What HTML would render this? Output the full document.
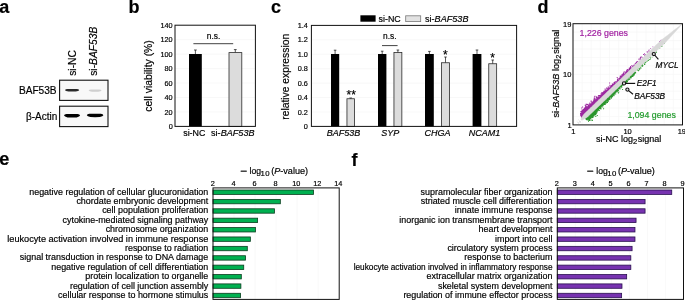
<!DOCTYPE html>
<html lang="en"><head><meta charset="utf-8"><title>Figure</title>
<style>html,body{margin:0;padding:0;background:#fff}body{width:685px;height:300px;overflow:hidden}svg{display:block}text{font-family:"Liberation Sans", Arial, Helvetica, sans-serif;fill:#000;stroke:#000;stroke-width:0.18px}</style>
</head><body>
<svg width="685" height="300" viewBox="0 0 685 300">
<defs><filter id="bl" x="-20%" y="-80%" width="140%" height="260%"><feGaussianBlur stdDeviation="0.75 0.5"/></filter></defs>
<rect width="685" height="300" fill="#fff"/>
<text x="-0.80" y="13.20" font-size="18" text-anchor="start" style="fill:#000;stroke:#000" font-weight="bold">a</text>
<text x="128.60" y="13.20" font-size="18" text-anchor="start" style="fill:#000;stroke:#000" font-weight="bold">b</text>
<text x="271.10" y="13.20" font-size="18" text-anchor="start" style="fill:#000;stroke:#000" font-weight="bold">c</text>
<text x="537.60" y="13.20" font-size="18" text-anchor="start" style="fill:#000;stroke:#000" font-weight="bold">d</text>
<text x="-0.80" y="164.70" font-size="18" text-anchor="start" style="fill:#000;stroke:#000" font-weight="bold">e</text>
<text x="351.60" y="166.10" font-size="18" text-anchor="start" style="fill:#000;stroke:#000" font-weight="bold">f</text>
<g id="panel-a">
<rect x="59.6" y="80.2" width="48.4" height="20.2" fill="#f8f8f8" stroke="#111" stroke-width="1.1"/>
<rect x="59.6" y="106.2" width="48.4" height="20.4" fill="#f8f8f8" stroke="#111" stroke-width="1.1"/>
<g filter="url(#bl)">
<path d="M65.0 90.20 Q65.3 89.10 67.5 89.10 L76.7 89.10 Q78.9 89.10 79.2 90.20 Q78.7 91.08 75.7 91.47 Q72.1 91.65 68.5 91.47 Q65.5 91.08 65.0 90.20 Z" fill="#2c2c2c"/>
<path d="M88.6 90.60 Q88.9 89.60 91.1 89.60 L99.1 89.60 Q101.3 89.60 101.6 90.60 Q101.1 91.40 98.1 91.70 Q95.1 91.80 92.1 91.70 Q89.1 91.40 88.6 90.60 Z" fill="#cfcfcf"/>
<path d="M64.0 115.60 Q64.3 114.05 66.5 114.05 L77.6 114.05 Q79.8 114.05 80.1 115.60 Q79.6 116.84 76.6 117.40 Q72.0 117.65 67.5 117.40 Q64.5 116.84 64.0 115.60 Z" fill="#000"/>
<path d="M86.8 115.20 Q87.1 113.65 89.3 113.65 L100.9 113.65 Q103.1 113.65 103.4 115.20 Q102.9 116.44 99.9 117.00 Q95.1 117.25 90.3 117.00 Q87.3 116.44 86.8 115.20 Z" fill="#000"/>
</g>
<text x="56.60" y="94.20" font-size="10.15" text-anchor="end" >BAF53B</text>
<text x="57.30" y="119.80" font-size="10" text-anchor="end" >β-Actin</text>
<text transform="translate(75.6 75.8) rotate(-90)" font-size="10.3">si-NC</text>
<text transform="translate(97.4 75.8) rotate(-90)" font-size="10.3">si-<tspan font-style="italic">BAF53B</tspan></text>
</g>
<g id="panel-b">
<line x1="175.0" x2="255.4" y1="111.94" y2="111.94" stroke="#f3f3f3" stroke-width="0.6"/>
<line x1="175.0" x2="255.4" y1="97.49" y2="97.49" stroke="#f3f3f3" stroke-width="0.6"/>
<line x1="175.0" x2="255.4" y1="83.03" y2="83.03" stroke="#f3f3f3" stroke-width="0.6"/>
<line x1="175.0" x2="255.4" y1="68.57" y2="68.57" stroke="#f3f3f3" stroke-width="0.6"/>
<line x1="175.0" x2="255.4" y1="54.11" y2="54.11" stroke="#f3f3f3" stroke-width="0.6"/>
<line x1="175.0" x2="255.4" y1="39.66" y2="39.66" stroke="#f3f3f3" stroke-width="0.6"/>
<text x="172.70" y="129.00" font-size="7.3" text-anchor="end" >0</text>
<text x="172.70" y="114.54" font-size="7.3" text-anchor="end" >20</text>
<text x="172.70" y="100.09" font-size="7.3" text-anchor="end" >40</text>
<text x="172.70" y="85.63" font-size="7.3" text-anchor="end" >60</text>
<text x="172.70" y="71.17" font-size="7.3" text-anchor="end" >80</text>
<text x="172.70" y="56.71" font-size="7.3" text-anchor="end" >100</text>
<text x="172.70" y="42.26" font-size="7.3" text-anchor="end" >120</text>
<text x="172.70" y="27.80" font-size="7.3" text-anchor="end" >140</text>
<line x1="195.4" x2="195.4" y1="50" y2="54.5" stroke="#111" stroke-width="0.7"/><line x1="194" x2="196.8" y1="50" y2="50" stroke="#111" stroke-width="0.7"/>
<rect x="189" y="54" width="12.8" height="72.40" fill="#000"/>
<line x1="235.3" x2="235.3" y1="49.6" y2="52.5" stroke="#111" stroke-width="0.7"/><line x1="233.9" x2="236.7" y1="49.6" y2="49.6" stroke="#111" stroke-width="0.7"/>
<rect x="229" y="52.6" width="12.8" height="73.80" fill="#dcdcdc" stroke="#2a2a2a" stroke-width="0.8"/>
<rect x="175.0" y="25.2" width="80.4" height="101.2" fill="none" stroke="#111" stroke-width="1"/>
<line x1="193.4" x2="233.2" y1="43.7" y2="43.7" stroke="#111" stroke-width="0.8"/>
<text x="213.50" y="39.00" font-size="8.4" text-anchor="middle" >n.s.</text>
<text x="194.30" y="135.50" font-size="8.9" text-anchor="middle" >si-NC</text>
<text x="232.80" y="135.50" font-size="9.1" text-anchor="middle" >si-<tspan font-style="italic">BAF53B</tspan></text>
<text transform="translate(151.6 76) rotate(-90)" font-size="10.4" text-anchor="middle">cell viability (%)</text>
</g>
<g id="panel-c">
<line x1="311.4" x2="516.6" y1="111.97" y2="111.97" stroke="#f3f3f3" stroke-width="0.6"/>
<line x1="311.4" x2="516.6" y1="97.54" y2="97.54" stroke="#f3f3f3" stroke-width="0.6"/>
<line x1="311.4" x2="516.6" y1="83.11" y2="83.11" stroke="#f3f3f3" stroke-width="0.6"/>
<line x1="311.4" x2="516.6" y1="68.69" y2="68.69" stroke="#f3f3f3" stroke-width="0.6"/>
<line x1="311.4" x2="516.6" y1="54.26" y2="54.26" stroke="#f3f3f3" stroke-width="0.6"/>
<line x1="311.4" x2="516.6" y1="39.83" y2="39.83" stroke="#f3f3f3" stroke-width="0.6"/>
<text x="307.90" y="129.00" font-size="7.3" text-anchor="end" >0</text>
<text x="307.90" y="114.57" font-size="7.3" text-anchor="end" >0.2</text>
<text x="307.90" y="100.14" font-size="7.3" text-anchor="end" >0.4</text>
<text x="307.90" y="85.71" font-size="7.3" text-anchor="end" >0.6</text>
<text x="307.90" y="71.29" font-size="7.3" text-anchor="end" >0.8</text>
<text x="307.90" y="56.86" font-size="7.3" text-anchor="end" >1.0</text>
<text x="307.90" y="42.43" font-size="7.3" text-anchor="end" >1.2</text>
<text x="307.90" y="28.00" font-size="7.3" text-anchor="end" >1.4</text>
<line x1="335.10" x2="335.10" y1="50.20" y2="54.50" stroke="#111" stroke-width="0.7"/><line x1="333.80" x2="336.40" y1="50.20" y2="50.20" stroke="#111" stroke-width="0.7"/>
<rect x="331.00" y="54.00" width="8.20" height="72.40" fill="#000"/>
<line x1="350.70" x2="350.70" y1="98.00" y2="98.90" stroke="#111" stroke-width="0.7"/><line x1="349.40" x2="352.00" y1="98.00" y2="98.00" stroke="#111" stroke-width="0.7"/>
<rect x="346.95" y="98.75" width="7.50" height="27.65" fill="#dcdcdc" stroke="#2a2a2a" stroke-width="0.8"/>
<line x1="382.20" x2="382.20" y1="51.20" y2="54.50" stroke="#111" stroke-width="0.7"/><line x1="380.90" x2="383.50" y1="51.20" y2="51.20" stroke="#111" stroke-width="0.7"/>
<rect x="378.00" y="54.00" width="8.40" height="72.40" fill="#000"/>
<line x1="397.90" x2="397.90" y1="50.00" y2="52.70" stroke="#111" stroke-width="0.7"/><line x1="396.60" x2="399.20" y1="50.00" y2="50.00" stroke="#111" stroke-width="0.7"/>
<rect x="393.95" y="52.55" width="7.90" height="73.85" fill="#dcdcdc" stroke="#2a2a2a" stroke-width="0.8"/>
<line x1="429.40" x2="429.40" y1="51.40" y2="54.50" stroke="#111" stroke-width="0.7"/><line x1="428.10" x2="430.70" y1="51.40" y2="51.40" stroke="#111" stroke-width="0.7"/>
<rect x="425.00" y="54.00" width="8.80" height="72.40" fill="#000"/>
<line x1="445.50" x2="445.50" y1="57.00" y2="62.90" stroke="#111" stroke-width="0.7"/><line x1="444.20" x2="446.80" y1="57.00" y2="57.00" stroke="#111" stroke-width="0.7"/>
<rect x="441.55" y="62.75" width="7.90" height="63.65" fill="#dcdcdc" stroke="#2a2a2a" stroke-width="0.8"/>
<line x1="477.00" x2="477.00" y1="50.00" y2="54.50" stroke="#111" stroke-width="0.7"/><line x1="475.70" x2="478.30" y1="50.00" y2="50.00" stroke="#111" stroke-width="0.7"/>
<rect x="472.60" y="54.00" width="8.80" height="72.40" fill="#000"/>
<line x1="492.70" x2="492.70" y1="60.00" y2="63.90" stroke="#111" stroke-width="0.7"/><line x1="491.40" x2="494.00" y1="60.00" y2="60.00" stroke="#111" stroke-width="0.7"/>
<rect x="488.75" y="63.75" width="7.90" height="62.65" fill="#dcdcdc" stroke="#2a2a2a" stroke-width="0.8"/>
<rect x="311.4" y="25.4" width="205.2" height="101.0" fill="none" stroke="#111" stroke-width="1"/>
<text x="351.20" y="98.80" font-size="12" text-anchor="middle" >**</text>
<text x="445.30" y="59.20" font-size="12" text-anchor="middle" >*</text>
<text x="492.70" y="62.20" font-size="12" text-anchor="middle" >*</text>
<line x1="382" x2="397.6" y1="45.6" y2="45.6" stroke="#111" stroke-width="0.8"/>
<text x="389.80" y="39.10" font-size="8.4" text-anchor="middle" >n.s.</text>
<text x="343.50" y="135.70" font-size="9.0" text-anchor="middle" font-style="italic">BAF53B</text>
<text x="390.30" y="135.70" font-size="9.0" text-anchor="middle" font-style="italic">SYP</text>
<text x="437.50" y="135.70" font-size="9.0" text-anchor="middle" font-style="italic">CHGA</text>
<text x="484.40" y="135.70" font-size="9.0" text-anchor="middle" font-style="italic">NCAM1</text>
<rect x="360.4" y="15.3" width="15.2" height="6.4" fill="#000"/>
<text x="378.60" y="21.60" font-size="8.9" text-anchor="start" >si-NC</text>
<rect x="405.7" y="15.8" width="15" height="5.8" fill="#e2e2e2" stroke="#777" stroke-width="0.8"/>
<text x="425.00" y="21.60" font-size="9.1" text-anchor="start" >si-<tspan font-style="italic">BAF53B</tspan></text>
<text transform="translate(288.9 76.8) rotate(-90)" font-size="10.3" text-anchor="middle">relative expression</text>
</g>
<g id="panel-d">
<line x1="582.12" x2="582.12" y1="23.7" y2="124.9" stroke="#f5f5f5" stroke-width="0.6"/>
<line x1="573.0" x2="682.5" y1="32.13" y2="32.13" stroke="#f5f5f5" stroke-width="0.6"/>
<line x1="591.25" x2="591.25" y1="23.7" y2="124.9" stroke="#f5f5f5" stroke-width="0.6"/>
<line x1="573.0" x2="682.5" y1="40.57" y2="40.57" stroke="#f5f5f5" stroke-width="0.6"/>
<line x1="600.38" x2="600.38" y1="23.7" y2="124.9" stroke="#f5f5f5" stroke-width="0.6"/>
<line x1="573.0" x2="682.5" y1="49.00" y2="49.00" stroke="#f5f5f5" stroke-width="0.6"/>
<line x1="609.50" x2="609.50" y1="23.7" y2="124.9" stroke="#f5f5f5" stroke-width="0.6"/>
<line x1="573.0" x2="682.5" y1="57.43" y2="57.43" stroke="#f5f5f5" stroke-width="0.6"/>
<line x1="618.62" x2="618.62" y1="23.7" y2="124.9" stroke="#f5f5f5" stroke-width="0.6"/>
<line x1="573.0" x2="682.5" y1="65.87" y2="65.87" stroke="#f5f5f5" stroke-width="0.6"/>
<line x1="627.75" x2="627.75" y1="23.7" y2="124.9" stroke="#f5f5f5" stroke-width="0.6"/>
<line x1="573.0" x2="682.5" y1="74.30" y2="74.30" stroke="#f5f5f5" stroke-width="0.6"/>
<line x1="636.88" x2="636.88" y1="23.7" y2="124.9" stroke="#f5f5f5" stroke-width="0.6"/>
<line x1="573.0" x2="682.5" y1="82.73" y2="82.73" stroke="#f5f5f5" stroke-width="0.6"/>
<line x1="646.00" x2="646.00" y1="23.7" y2="124.9" stroke="#f5f5f5" stroke-width="0.6"/>
<line x1="573.0" x2="682.5" y1="91.17" y2="91.17" stroke="#f5f5f5" stroke-width="0.6"/>
<line x1="655.12" x2="655.12" y1="23.7" y2="124.9" stroke="#f5f5f5" stroke-width="0.6"/>
<line x1="573.0" x2="682.5" y1="99.60" y2="99.60" stroke="#f5f5f5" stroke-width="0.6"/>
<line x1="664.25" x2="664.25" y1="23.7" y2="124.9" stroke="#f5f5f5" stroke-width="0.6"/>
<line x1="573.0" x2="682.5" y1="108.03" y2="108.03" stroke="#f5f5f5" stroke-width="0.6"/>
<line x1="673.38" x2="673.38" y1="23.7" y2="124.9" stroke="#f5f5f5" stroke-width="0.6"/>
<line x1="573.0" x2="682.5" y1="116.47" y2="116.47" stroke="#f5f5f5" stroke-width="0.6"/>
<polygon points="582.2,117.6 583.3,115.9 584.5,114.2 586.0,112.7 587.5,111.3 589.0,109.9 590.5,108.4 592.0,107.0 593.5,105.6 595.0,104.1 596.4,102.7 597.9,101.3 599.4,99.9 600.9,98.4 602.4,97.0 603.9,95.6 605.4,94.1 606.9,92.7 608.4,91.3 609.9,89.8 611.4,88.4 612.9,87.0 614.4,85.6 615.9,84.1 617.4,82.7 618.9,81.3 620.4,79.8 621.8,78.4 623.3,77.0 624.8,75.5 626.3,74.1 627.8,72.7 629.3,71.3 630.8,69.8 632.3,68.4 633.8,67.0 635.3,65.5 636.8,64.1 638.3,62.7 639.8,61.2 641.3,59.8 642.8,58.4 644.3,56.9 645.7,55.5 647.2,54.1 647.2,54.1 645.7,55.5 644.2,56.9 642.7,58.3 641.2,59.7 639.6,61.1 638.1,62.5 636.6,63.9 635.1,65.3 633.5,66.7 632.0,68.1 630.5,69.5 628.9,70.9 627.4,72.3 625.8,73.7 624.3,75.0 622.7,76.4 621.2,77.8 619.6,79.2 618.1,80.5 616.5,81.9 614.9,83.3 613.4,84.6 611.8,86.0 610.3,87.4 608.7,88.7 607.1,90.1 605.5,91.4 604.0,92.8 602.5,94.2 601.0,95.6 599.4,97.0 597.9,98.5 596.4,99.9 594.9,101.3 593.4,102.7 591.8,104.1 590.3,105.5 588.8,106.9 587.3,108.3 585.7,109.7 584.2,111.1 582.7,112.5 581.8,114.5 581.8,117.3" fill="#9c2aa0"/>
<polygon points="585.1,118.1 586.9,116.9 588.4,115.5 589.9,114.1 591.4,112.7 592.9,111.3 594.4,109.8 595.9,108.4 597.4,107.0 598.9,105.5 600.4,104.1 601.9,102.7 603.4,101.2 604.9,99.8 606.4,98.4 607.9,97.0 609.3,95.5 610.8,94.1 612.3,92.7 613.8,91.2 615.3,89.8 616.8,88.4 618.3,86.9 619.8,85.5 621.3,84.1 622.8,82.6 624.3,81.2 625.8,79.8 627.3,78.4 628.8,76.9 630.3,75.5 631.8,74.1 633.3,72.6 634.7,71.2 636.2,69.8 637.7,68.3 639.2,66.9 640.7,65.5 642.2,64.1 643.7,62.6 645.2,61.2 646.7,59.8 648.2,58.3 649.7,56.9 649.7,56.9 648.2,58.4 646.8,59.8 645.3,61.3 643.8,62.7 642.4,64.2 640.9,65.6 639.4,67.1 638.0,68.6 636.5,70.0 635.0,71.5 633.6,72.9 632.1,74.4 630.7,75.9 629.2,77.4 627.8,78.8 626.4,80.3 624.9,81.8 623.5,83.3 622.1,84.8 620.6,86.3 619.2,87.8 617.8,89.3 616.3,90.7 614.9,92.2 613.5,93.7 612.1,95.2 610.7,96.7 609.2,98.2 607.7,99.7 606.3,101.1 604.8,102.6 603.3,104.0 601.8,105.5 600.4,106.9 598.9,108.4 597.4,109.8 596.0,111.3 594.5,112.7 593.0,114.2 591.6,115.6 590.1,117.1 588.6,118.5 586.3,119.2" fill="#2a962c"/>
<path d="M586.7 108.6h1.0v1.0h-1.0zM593.2 101.9h1.0v1.0h-1.0zM581.9 115.4h1.0v1.0h-1.0zM582.3 115.3h1.0v1.0h-1.0zM590.3 106.5h1.0v1.0h-1.0zM597.9 98.9h1.0v1.0h-1.0zM593.8 99.3h1.0v1.0h-1.0zM614.4 81.4h1.0v1.0h-1.0zM582.7 112.9h1.0v1.0h-1.0zM583.6 112.1h1.0v1.0h-1.0zM598.1 97.9h1.0v1.0h-1.0zM581.4 114.8h1.0v1.0h-1.0zM600.4 96.0h1.0v1.0h-1.0zM591.1 105.5h1.0v1.0h-1.0zM608.9 88.9h1.0v1.0h-1.0zM593.3 102.7h1.0v1.0h-1.0zM603.5 93.2h1.0v1.0h-1.0zM587.3 104.1h1.0v1.0h-1.0zM583.3 113.1h1.0v1.0h-1.0zM606.6 91.4h1.0v1.0h-1.0zM617.6 80.0h1.0v1.0h-1.0zM594.8 100.0h1.0v1.0h-1.0zM612.7 84.0h1.0v1.0h-1.0zM581.9 115.2h1.0v1.0h-1.0zM597.5 96.6h1.0v1.0h-1.0zM589.3 107.8h1.0v1.0h-1.0zM581.3 116.1h1.0v1.0h-1.0zM582.0 115.4h1.0v1.0h-1.0zM583.3 113.9h1.0v1.0h-1.0zM581.5 114.2h1.0v1.0h-1.0zM593.5 101.2h1.0v1.0h-1.0zM585.1 109.3h1.0v1.0h-1.0zM586.5 106.6h1.0v1.0h-1.0zM582.1 111.0h1.0v1.0h-1.0zM583.8 110.2h1.0v1.0h-1.0zM581.4 116.7h1.0v1.0h-1.0zM586.3 105.9h1.0v1.0h-1.0zM592.6 102.8h1.0v1.0h-1.0zM598.9 95.0h1.0v1.0h-1.0zM617.4 80.1h1.0v1.0h-1.0zM589.2 107.3h1.0v1.0h-1.0zM582.0 115.2h1.0v1.0h-1.0zM584.3 111.7h1.0v1.0h-1.0zM581.3 116.8h1.0v1.0h-1.0zM582.7 114.4h1.0v1.0h-1.0zM597.6 99.7h1.0v1.0h-1.0zM585.2 110.6h1.0v1.0h-1.0zM613.9 83.2h1.0v1.0h-1.0zM591.5 105.0h1.0v1.0h-1.0zM588.2 109.0h1.0v1.0h-1.0zM612.3 85.9h1.0v1.0h-1.0zM594.0 103.2h1.0v1.0h-1.0zM593.5 101.6h1.0v1.0h-1.0zM616.2 81.9h1.0v1.0h-1.0zM585.6 110.6h1.0v1.0h-1.0zM593.9 102.7h1.0v1.0h-1.0zM587.5 109.0h1.0v1.0h-1.0zM613.6 82.0h1.0v1.0h-1.0zM611.2 86.9h1.0v1.0h-1.0zM587.7 107.9h1.0v1.0h-1.0zM581.6 116.1h1.0v1.0h-1.0zM636.3 61.9h0.8v0.8h-0.8zM660.2 40.4h0.8v0.8h-0.8zM584.3 112.2h1.0v1.0h-1.0zM596.7 98.0h1.0v1.0h-1.0zM598.6 97.0h1.0v1.0h-1.0zM581.4 113.9h1.0v1.0h-1.0zM603.8 90.8h1.0v1.0h-1.0zM584.0 112.6h1.0v1.0h-1.0zM644.1 54.7h0.8v0.8h-0.8zM633.2 65.8h0.8v0.8h-0.8zM621.4 74.5h1.0v1.0h-1.0zM610.9 85.0h1.0v1.0h-1.0zM594.8 102.4h1.0v1.0h-1.0zM581.0 116.0h1.0v1.0h-1.0zM628.6 69.0h1.0v1.0h-1.0zM611.9 86.1h1.0v1.0h-1.0zM584.7 110.7h1.0v1.0h-1.0zM585.5 110.6h1.0v1.0h-1.0zM588.2 108.5h1.0v1.0h-1.0zM595.5 100.4h1.0v1.0h-1.0zM592.5 103.7h1.0v1.0h-1.0zM592.8 102.4h1.0v1.0h-1.0zM581.4 116.7h1.0v1.0h-1.0zM582.1 111.2h1.0v1.0h-1.0zM587.5 109.2h1.0v1.0h-1.0zM595.1 102.2h1.0v1.0h-1.0zM585.3 110.8h1.0v1.0h-1.0zM606.1 89.8h1.0v1.0h-1.0zM623.6 73.7h1.0v1.0h-1.0zM591.7 102.6h1.0v1.0h-1.0zM594.2 103.0h1.0v1.0h-1.0zM630.1 66.1h1.0v1.0h-1.0zM593.3 100.3h1.0v1.0h-1.0zM613.3 84.5h1.0v1.0h-1.0zM582.0 114.9h1.0v1.0h-1.0zM581.6 114.5h1.0v1.0h-1.0zM581.8 111.6h1.0v1.0h-1.0zM598.8 96.5h1.0v1.0h-1.0zM583.2 110.1h1.0v1.0h-1.0zM586.3 104.3h1.0v1.0h-1.0zM583.6 112.9h1.0v1.0h-1.0zM593.3 103.4h1.0v1.0h-1.0zM603.1 93.8h1.0v1.0h-1.0zM595.0 102.2h1.0v1.0h-1.0zM598.2 99.4h1.0v1.0h-1.0zM580.7 114.0h1.0v1.0h-1.0zM582.7 114.3h1.0v1.0h-1.0zM581.8 115.9h1.0v1.0h-1.0zM589.6 106.0h1.0v1.0h-1.0zM611.3 86.9h1.0v1.0h-1.0zM595.3 101.2h1.0v1.0h-1.0zM581.2 113.5h1.0v1.0h-1.0zM581.9 114.8h1.0v1.0h-1.0zM598.6 98.8h1.0v1.0h-1.0zM581.9 115.0h1.0v1.0h-1.0zM590.8 105.2h1.0v1.0h-1.0zM585.0 109.7h1.0v1.0h-1.0zM594.1 103.4h1.0v1.0h-1.0zM581.7 115.4h1.0v1.0h-1.0zM586.7 109.2h1.0v1.0h-1.0zM591.4 102.7h1.0v1.0h-1.0zM587.5 108.1h1.0v1.0h-1.0zM604.3 93.5h1.0v1.0h-1.0zM581.6 110.0h1.0v1.0h-1.0zM611.0 86.6h1.0v1.0h-1.0zM592.4 104.0h1.0v1.0h-1.0zM600.7 95.5h1.0v1.0h-1.0zM587.3 108.2h1.0v1.0h-1.0zM588.4 105.9h1.0v1.0h-1.0zM581.9 115.4h1.0v1.0h-1.0zM585.7 110.9h1.0v1.0h-1.0zM581.5 114.0h1.0v1.0h-1.0zM584.6 108.7h1.0v1.0h-1.0zM586.2 109.7h1.0v1.0h-1.0zM586.0 110.8h1.0v1.0h-1.0zM644.0 53.3h0.8v0.8h-0.8zM585.3 105.6h1.0v1.0h-1.0zM591.5 104.5h1.0v1.0h-1.0zM581.4 116.7h1.0v1.0h-1.0zM582.4 114.6h1.0v1.0h-1.0zM587.0 109.8h1.0v1.0h-1.0zM594.8 99.5h1.0v1.0h-1.0zM603.0 94.4h1.0v1.0h-1.0zM588.0 106.3h1.0v1.0h-1.0zM601.4 91.9h1.0v1.0h-1.0zM581.2 115.2h1.0v1.0h-1.0zM602.7 91.9h1.0v1.0h-1.0zM582.0 112.3h1.0v1.0h-1.0zM609.8 88.1h1.0v1.0h-1.0zM595.2 100.0h1.0v1.0h-1.0zM584.2 110.7h1.0v1.0h-1.0zM583.0 113.5h1.0v1.0h-1.0zM595.0 101.8h1.0v1.0h-1.0zM594.5 95.8h1.0v1.0h-1.0zM604.5 91.7h1.0v1.0h-1.0zM594.2 102.9h1.0v1.0h-1.0zM585.5 110.9h1.0v1.0h-1.0zM586.1 110.8h1.0v1.0h-1.0zM646.8 51.9h0.8v0.8h-0.8zM591.6 104.3h1.0v1.0h-1.0zM597.6 97.1h1.0v1.0h-1.0zM583.5 113.5h1.0v1.0h-1.0zM593.6 99.8h1.0v1.0h-1.0zM585.4 110.1h1.0v1.0h-1.0zM585.2 108.8h1.0v1.0h-1.0zM591.4 105.0h1.0v1.0h-1.0zM584.6 112.3h1.0v1.0h-1.0zM628.7 67.7h1.0v1.0h-1.0zM591.3 105.9h1.0v1.0h-1.0zM584.1 111.5h1.0v1.0h-1.0zM583.2 113.4h1.0v1.0h-1.0zM634.7 63.2h0.8v0.8h-0.8zM601.2 94.2h1.0v1.0h-1.0zM621.6 77.1h1.0v1.0h-1.0zM591.4 105.9h1.0v1.0h-1.0zM582.9 113.1h1.0v1.0h-1.0zM581.3 116.7h1.0v1.0h-1.0zM612.1 83.6h1.0v1.0h-1.0zM621.7 76.0h1.0v1.0h-1.0zM588.1 106.3h1.0v1.0h-1.0zM590.7 106.6h1.0v1.0h-1.0zM580.9 114.7h1.0v1.0h-1.0zM629.5 68.8h1.0v1.0h-1.0zM593.1 103.6h1.0v1.0h-1.0zM618.7 78.6h1.0v1.0h-1.0zM596.5 97.2h1.0v1.0h-1.0zM602.3 93.3h1.0v1.0h-1.0zM602.8 92.2h1.0v1.0h-1.0zM586.1 109.9h1.0v1.0h-1.0zM627.0 70.8h1.0v1.0h-1.0zM604.0 92.5h1.0v1.0h-1.0zM585.5 110.5h1.0v1.0h-1.0zM588.9 106.9h1.0v1.0h-1.0zM583.1 112.6h1.0v1.0h-1.0zM582.6 109.6h1.0v1.0h-1.0zM590.9 105.5h1.0v1.0h-1.0zM587.6 108.5h1.0v1.0h-1.0zM585.5 111.5h1.0v1.0h-1.0zM604.3 91.4h1.0v1.0h-1.0zM589.2 106.1h1.0v1.0h-1.0zM582.1 115.4h1.0v1.0h-1.0zM641.4 56.6h0.8v0.8h-0.8zM584.0 111.1h1.0v1.0h-1.0zM584.8 110.3h1.0v1.0h-1.0zM614.0 83.3h1.0v1.0h-1.0zM580.9 115.6h1.0v1.0h-1.0zM591.8 104.9h1.0v1.0h-1.0zM581.3 116.8h1.0v1.0h-1.0zM614.2 82.0h1.0v1.0h-1.0zM585.3 110.8h1.0v1.0h-1.0zM600.9 96.2h1.0v1.0h-1.0zM602.7 93.4h1.0v1.0h-1.0zM593.6 101.1h1.0v1.0h-1.0zM607.8 89.9h1.0v1.0h-1.0zM584.5 107.6h1.0v1.0h-1.0zM584.7 110.1h1.0v1.0h-1.0zM581.3 114.3h1.0v1.0h-1.0zM595.8 100.7h1.0v1.0h-1.0zM581.3 116.5h1.0v1.0h-1.0zM590.2 104.2h1.0v1.0h-1.0zM591.9 104.8h1.0v1.0h-1.0zM583.9 109.7h1.0v1.0h-1.0zM581.4 116.2h1.0v1.0h-1.0zM600.2 96.4h1.0v1.0h-1.0zM626.8 71.4h1.0v1.0h-1.0zM586.5 107.7h1.0v1.0h-1.0zM608.7 88.3h1.0v1.0h-1.0zM592.5 103.4h1.0v1.0h-1.0zM609.3 84.8h1.0v1.0h-1.0zM585.1 111.9h1.0v1.0h-1.0zM592.1 103.6h1.0v1.0h-1.0zM583.7 110.4h1.0v1.0h-1.0zM582.6 112.7h1.0v1.0h-1.0zM584.3 111.5h1.0v1.0h-1.0zM582.1 115.4h1.0v1.0h-1.0zM619.8 75.4h1.0v1.0h-1.0zM586.6 108.2h1.0v1.0h-1.0zM628.9 68.1h1.0v1.0h-1.0zM588.8 107.9h1.0v1.0h-1.0zM583.0 112.1h1.0v1.0h-1.0zM636.4 62.7h0.8v0.8h-0.8zM583.4 110.9h1.0v1.0h-1.0zM589.2 105.0h1.0v1.0h-1.0zM590.5 103.6h1.0v1.0h-1.0zM586.9 106.7h1.0v1.0h-1.0zM580.8 115.3h1.0v1.0h-1.0zM581.2 115.3h1.0v1.0h-1.0zM581.6 114.9h1.0v1.0h-1.0zM621.1 76.4h1.0v1.0h-1.0zM636.4 61.0h0.8v0.8h-0.8zM582.1 106.6h1.0v1.0h-1.0zM625.2 73.6h1.0v1.0h-1.0zM590.3 103.3h1.0v1.0h-1.0zM635.3 62.9h0.8v0.8h-0.8zM627.6 70.8h1.0v1.0h-1.0zM604.0 92.6h1.0v1.0h-1.0zM586.0 107.7h1.0v1.0h-1.0zM588.7 108.4h1.0v1.0h-1.0zM605.4 91.9h1.0v1.0h-1.0zM581.2 114.4h1.0v1.0h-1.0zM650.3 48.2h0.8v0.8h-0.8zM585.7 110.5h1.0v1.0h-1.0zM602.7 94.8h1.0v1.0h-1.0zM584.0 110.3h1.0v1.0h-1.0zM604.8 92.0h1.0v1.0h-1.0zM598.9 96.2h1.0v1.0h-1.0zM594.3 100.6h1.0v1.0h-1.0zM604.5 93.0h1.0v1.0h-1.0zM582.8 112.5h1.0v1.0h-1.0zM595.7 101.0h1.0v1.0h-1.0zM592.4 103.2h1.0v1.0h-1.0zM608.8 86.5h1.0v1.0h-1.0zM589.4 102.6h1.0v1.0h-1.0zM613.4 84.5h1.0v1.0h-1.0zM582.9 114.0h1.0v1.0h-1.0zM645.0 53.9h0.8v0.8h-0.8zM590.1 104.8h1.0v1.0h-1.0zM607.3 90.1h1.0v1.0h-1.0zM597.9 99.5h1.0v1.0h-1.0zM588.5 107.9h1.0v1.0h-1.0zM596.6 100.0h1.0v1.0h-1.0zM583.7 111.3h1.0v1.0h-1.0zM584.3 112.6h1.0v1.0h-1.0zM584.3 111.9h1.0v1.0h-1.0zM581.5 113.4h1.0v1.0h-1.0zM594.7 102.3h1.0v1.0h-1.0zM601.7 95.5h1.0v1.0h-1.0zM585.6 109.5h1.0v1.0h-1.0zM593.2 99.6h1.0v1.0h-1.0zM587.8 104.7h1.0v1.0h-1.0zM581.5 109.6h1.0v1.0h-1.0zM582.1 109.9h1.0v1.0h-1.0zM611.4 86.7h1.0v1.0h-1.0zM616.7 77.1h1.0v1.0h-1.0zM598.9 98.5h1.0v1.0h-1.0zM581.9 114.2h1.0v1.0h-1.0zM582.7 112.8h1.0v1.0h-1.0zM593.4 103.2h1.0v1.0h-1.0zM609.8 88.0h1.0v1.0h-1.0zM582.6 110.5h1.0v1.0h-1.0zM590.6 103.2h1.0v1.0h-1.0zM626.4 70.5h1.0v1.0h-1.0zM582.1 111.6h1.0v1.0h-1.0zM583.2 110.1h1.0v1.0h-1.0zM583.0 111.5h1.0v1.0h-1.0zM588.7 106.4h1.0v1.0h-1.0zM585.7 111.2h1.0v1.0h-1.0zM620.1 75.9h1.0v1.0h-1.0zM613.1 84.7h1.0v1.0h-1.0zM595.7 99.3h1.0v1.0h-1.0zM590.0 106.4h1.0v1.0h-1.0zM590.0 106.1h1.0v1.0h-1.0zM581.2 115.9h1.0v1.0h-1.0zM592.6 104.5h1.0v1.0h-1.0zM589.8 104.0h1.0v1.0h-1.0zM591.7 104.8h1.0v1.0h-1.0zM582.3 114.5h1.0v1.0h-1.0zM592.0 102.6h1.0v1.0h-1.0zM604.1 93.2h1.0v1.0h-1.0zM592.3 102.8h1.0v1.0h-1.0zM634.6 64.4h0.8v0.8h-0.8zM604.1 93.4h1.0v1.0h-1.0zM592.2 104.0h1.0v1.0h-1.0zM623.5 72.2h1.0v1.0h-1.0zM586.7 107.2h1.0v1.0h-1.0zM583.0 112.5h1.0v1.0h-1.0zM582.9 113.0h1.0v1.0h-1.0zM625.1 72.1h1.0v1.0h-1.0zM581.4 115.6h1.0v1.0h-1.0zM582.1 111.6h1.0v1.0h-1.0zM583.3 112.4h1.0v1.0h-1.0zM581.4 112.8h1.0v1.0h-1.0zM617.5 80.6h1.0v1.0h-1.0zM595.9 101.0h1.0v1.0h-1.0zM598.2 98.9h1.0v1.0h-1.0zM609.1 88.6h1.0v1.0h-1.0zM585.2 105.3h1.0v1.0h-1.0zM590.3 105.5h1.0v1.0h-1.0zM610.2 85.7h1.0v1.0h-1.0zM597.6 97.5h1.0v1.0h-1.0zM585.0 107.6h1.0v1.0h-1.0zM582.6 112.6h1.0v1.0h-1.0zM621.0 77.2h1.0v1.0h-1.0zM599.6 98.0h1.0v1.0h-1.0zM582.9 114.5h1.0v1.0h-1.0zM583.8 110.6h1.0v1.0h-1.0zM597.6 98.8h1.0v1.0h-1.0zM582.5 113.0h1.0v1.0h-1.0zM582.4 114.4h1.0v1.0h-1.0zM617.3 80.9h1.0v1.0h-1.0zM581.1 116.3h1.0v1.0h-1.0zM594.6 101.2h1.0v1.0h-1.0zM629.1 67.6h1.0v1.0h-1.0zM621.9 75.4h1.0v1.0h-1.0zM581.9 115.3h1.0v1.0h-1.0zM580.7 115.8h1.0v1.0h-1.0zM583.8 111.6h1.0v1.0h-1.0zM592.1 102.9h1.0v1.0h-1.0zM585.6 108.3h1.0v1.0h-1.0zM581.0 114.8h1.0v1.0h-1.0zM581.1 116.4h1.0v1.0h-1.0zM603.7 91.4h1.0v1.0h-1.0zM584.9 111.4h1.0v1.0h-1.0zM584.4 110.7h1.0v1.0h-1.0zM601.8 95.7h1.0v1.0h-1.0zM602.9 94.8h1.0v1.0h-1.0zM607.4 88.5h1.0v1.0h-1.0zM584.3 109.1h1.0v1.0h-1.0zM617.1 78.4h1.0v1.0h-1.0zM585.9 110.9h1.0v1.0h-1.0zM603.8 91.3h1.0v1.0h-1.0zM618.5 79.6h1.0v1.0h-1.0zM597.9 98.5h1.0v1.0h-1.0zM599.2 96.4h1.0v1.0h-1.0zM602.0 95.6h1.0v1.0h-1.0zM590.8 106.2h1.0v1.0h-1.0zM583.4 110.7h1.0v1.0h-1.0zM582.0 114.7h1.0v1.0h-1.0zM582.6 114.2h1.0v1.0h-1.0zM588.1 108.8h1.0v1.0h-1.0zM601.7 95.8h1.0v1.0h-1.0zM602.1 95.7h1.0v1.0h-1.0zM588.4 108.1h1.0v1.0h-1.0zM611.2 86.6h1.0v1.0h-1.0zM623.1 72.5h1.0v1.0h-1.0zM584.6 112.1h1.0v1.0h-1.0zM610.5 87.4h1.0v1.0h-1.0zM611.5 85.9h1.0v1.0h-1.0zM582.1 114.1h1.0v1.0h-1.0zM584.3 111.8h1.0v1.0h-1.0zM584.9 110.1h1.0v1.0h-1.0zM602.7 94.1h1.0v1.0h-1.0zM592.6 103.6h1.0v1.0h-1.0zM596.9 98.7h1.0v1.0h-1.0zM607.1 90.6h1.0v1.0h-1.0zM601.9 94.7h1.0v1.0h-1.0zM582.5 114.7h1.0v1.0h-1.0zM583.2 112.3h1.0v1.0h-1.0zM649.1 50.9h0.8v0.8h-0.8zM592.6 104.4h1.0v1.0h-1.0zM587.6 108.3h1.0v1.0h-1.0zM585.2 110.2h1.0v1.0h-1.0zM602.0 95.4h1.0v1.0h-1.0zM582.7 114.1h1.0v1.0h-1.0zM601.8 95.5h1.0v1.0h-1.0zM597.8 98.7h1.0v1.0h-1.0zM620.2 78.1h1.0v1.0h-1.0zM581.6 116.2h1.0v1.0h-1.0zM592.3 103.5h1.0v1.0h-1.0zM619.2 79.2h1.0v1.0h-1.0zM604.9 91.2h1.0v1.0h-1.0zM598.8 97.9h1.0v1.0h-1.0zM613.3 83.9h1.0v1.0h-1.0zM604.5 92.5h1.0v1.0h-1.0zM595.2 100.5h1.0v1.0h-1.0zM591.2 105.0h1.0v1.0h-1.0zM586.6 109.5h1.0v1.0h-1.0zM613.7 84.1h1.0v1.0h-1.0zM587.2 108.9h1.0v1.0h-1.0zM583.5 112.9h1.0v1.0h-1.0zM603.6 93.3h1.0v1.0h-1.0zM638.1 58.7h0.8v0.8h-0.8zM603.8 93.0h1.0v1.0h-1.0zM584.2 112.1h1.0v1.0h-1.0zM589.1 107.4h1.0v1.0h-1.0zM589.4 107.1h1.0v1.0h-1.0zM597.1 97.7h1.0v1.0h-1.0zM582.5 112.7h1.0v1.0h-1.0zM622.7 74.6h1.0v1.0h-1.0zM604.9 92.0h1.0v1.0h-1.0zM618.5 79.6h1.0v1.0h-1.0zM601.4 94.8h1.0v1.0h-1.0zM590.2 104.6h1.0v1.0h-1.0zM597.6 98.5h1.0v1.0h-1.0zM602.5 94.3h1.0v1.0h-1.0zM584.7 110.2h1.0v1.0h-1.0zM589.6 106.7h1.0v1.0h-1.0zM627.1 69.3h1.0v1.0h-1.0zM591.3 103.3h1.0v1.0h-1.0zM581.5 115.7h1.0v1.0h-1.0zM630.5 67.0h1.0v1.0h-1.0zM594.4 100.1h1.0v1.0h-1.0zM598.6 98.4h1.0v1.0h-1.0zM591.7 101.5h1.0v1.0h-1.0zM600.1 95.3h1.0v1.0h-1.0zM604.6 89.8h1.0v1.0h-1.0zM580.5 114.1h1.0v1.0h-1.0zM588.7 106.4h1.0v1.0h-1.0zM602.1 95.6h1.0v1.0h-1.0zM585.9 110.7h1.0v1.0h-1.0zM592.4 101.8h1.0v1.0h-1.0zM609.2 88.1h1.0v1.0h-1.0zM607.2 90.2h1.0v1.0h-1.0zM597.5 97.8h1.0v1.0h-1.0zM639.8 58.9h0.8v0.8h-0.8zM610.9 86.6h1.0v1.0h-1.0zM593.8 101.6h1.0v1.0h-1.0zM611.9 84.5h1.0v1.0h-1.0zM587.4 106.5h1.0v1.0h-1.0zM590.6 106.7h1.0v1.0h-1.0zM586.5 110.5h1.0v1.0h-1.0zM585.9 108.9h1.0v1.0h-1.0zM599.9 97.6h1.0v1.0h-1.0zM626.7 69.6h1.0v1.0h-1.0zM607.9 89.7h1.0v1.0h-1.0zM609.1 82.5h1.0v1.0h-1.0zM599.7 97.8h1.0v1.0h-1.0zM582.3 114.1h1.0v1.0h-1.0zM587.7 108.3h1.0v1.0h-1.0zM621.1 74.5h1.0v1.0h-1.0zM607.4 89.7h1.0v1.0h-1.0zM620.6 77.4h1.0v1.0h-1.0zM592.3 101.4h1.0v1.0h-1.0zM590.0 105.3h1.0v1.0h-1.0zM584.4 110.7h1.0v1.0h-1.0zM591.7 103.5h1.0v1.0h-1.0zM592.4 104.2h1.0v1.0h-1.0zM594.5 102.9h1.0v1.0h-1.0zM591.9 105.3h1.0v1.0h-1.0zM599.8 97.0h1.0v1.0h-1.0zM638.7 60.7h0.8v0.8h-0.8zM597.5 97.6h1.0v1.0h-1.0zM628.2 69.7h1.0v1.0h-1.0zM591.2 101.8h1.0v1.0h-1.0zM603.2 94.3h1.0v1.0h-1.0zM587.4 108.5h1.0v1.0h-1.0zM593.3 102.7h1.0v1.0h-1.0zM583.8 111.1h1.0v1.0h-1.0zM611.8 85.8h1.0v1.0h-1.0zM611.4 85.3h1.0v1.0h-1.0zM592.6 103.4h1.0v1.0h-1.0zM599.5 97.8h1.0v1.0h-1.0zM586.0 109.2h1.0v1.0h-1.0zM598.7 98.9h1.0v1.0h-1.0zM619.4 78.8h1.0v1.0h-1.0zM582.0 115.7h1.0v1.0h-1.0zM625.3 71.6h1.0v1.0h-1.0zM607.6 88.6h1.0v1.0h-1.0zM597.6 98.6h1.0v1.0h-1.0zM596.7 100.4h1.0v1.0h-1.0zM591.0 105.1h1.0v1.0h-1.0zM582.7 114.5h1.0v1.0h-1.0zM623.6 73.1h1.0v1.0h-1.0zM611.5 86.3h1.0v1.0h-1.0zM585.7 108.7h1.0v1.0h-1.0zM586.0 108.2h1.0v1.0h-1.0zM581.6 115.2h1.0v1.0h-1.0zM581.0 115.1h1.0v1.0h-1.0zM623.7 71.3h1.0v1.0h-1.0zM594.1 98.3h1.0v1.0h-1.0zM589.0 106.0h1.0v1.0h-1.0zM599.1 98.4h1.0v1.0h-1.0zM581.3 116.6h1.0v1.0h-1.0zM582.7 113.7h1.0v1.0h-1.0zM583.2 113.9h1.0v1.0h-1.0zM603.4 94.4h1.0v1.0h-1.0zM580.8 114.6h1.0v1.0h-1.0zM602.2 93.9h1.0v1.0h-1.0zM597.2 98.0h1.0v1.0h-1.0zM591.0 104.9h1.0v1.0h-1.0zM601.5 92.8h1.0v1.0h-1.0zM599.4 98.0h1.0v1.0h-1.0zM603.8 93.5h1.0v1.0h-1.0zM615.8 82.1h1.0v1.0h-1.0zM596.0 101.5h1.0v1.0h-1.0zM599.9 95.9h1.0v1.0h-1.0zM597.8 97.2h1.0v1.0h-1.0zM588.9 105.6h1.0v1.0h-1.0zM607.2 88.9h1.0v1.0h-1.0zM583.9 107.5h1.0v1.0h-1.0zM611.3 85.3h1.0v1.0h-1.0zM595.5 98.5h1.0v1.0h-1.0zM587.0 109.6h1.0v1.0h-1.0zM619.1 77.9h1.0v1.0h-1.0zM619.8 76.0h1.0v1.0h-1.0zM581.4 116.8h1.0v1.0h-1.0zM610.2 86.4h1.0v1.0h-1.0zM581.3 115.3h1.0v1.0h-1.0zM594.2 100.1h1.0v1.0h-1.0zM614.4 83.1h1.0v1.0h-1.0zM586.7 107.4h1.0v1.0h-1.0zM595.0 102.2h1.0v1.0h-1.0zM628.4 69.8h1.0v1.0h-1.0zM600.3 96.2h1.0v1.0h-1.0zM605.5 92.2h1.0v1.0h-1.0zM590.0 104.1h1.0v1.0h-1.0zM584.3 110.6h1.0v1.0h-1.0zM620.6 76.4h1.0v1.0h-1.0zM583.5 111.7h1.0v1.0h-1.0zM583.9 112.5h1.0v1.0h-1.0zM588.9 106.4h1.0v1.0h-1.0zM588.0 107.2h1.0v1.0h-1.0zM598.5 98.9h1.0v1.0h-1.0zM587.6 108.4h1.0v1.0h-1.0zM580.2 115.0h1.0v1.0h-1.0zM591.9 104.2h1.0v1.0h-1.0zM585.9 110.8h1.0v1.0h-1.0zM605.9 90.3h1.0v1.0h-1.0zM639.8 59.3h0.8v0.8h-0.8zM582.3 114.7h1.0v1.0h-1.0zM594.5 101.5h1.0v1.0h-1.0zM623.7 74.8h1.0v1.0h-1.0zM587.7 105.6h1.0v1.0h-1.0zM593.8 100.3h1.0v1.0h-1.0zM636.3 61.9h0.8v0.8h-0.8zM639.9 57.1h0.8v0.8h-0.8zM581.8 116.0h1.0v1.0h-1.0zM621.3 74.5h1.0v1.0h-1.0zM608.1 89.4h1.0v1.0h-1.0zM581.0 114.6h1.0v1.0h-1.0zM604.6 90.9h1.0v1.0h-1.0zM596.2 100.3h1.0v1.0h-1.0zM582.5 114.1h1.0v1.0h-1.0zM591.7 104.3h1.0v1.0h-1.0zM581.2 107.5h1.0v1.0h-1.0zM583.1 111.2h1.0v1.0h-1.0zM626.3 69.8h1.0v1.0h-1.0zM580.6 111.0h1.0v1.0h-1.0zM580.9 113.0h1.0v1.0h-1.0zM590.6 105.0h1.0v1.0h-1.0zM610.6 85.4h1.0v1.0h-1.0zM585.0 111.7h1.0v1.0h-1.0zM602.6 94.3h1.0v1.0h-1.0zM586.0 110.7h1.0v1.0h-1.0zM583.4 113.0h1.0v1.0h-1.0zM581.6 110.9h1.0v1.0h-1.0zM587.1 109.2h1.0v1.0h-1.0zM581.9 115.4h1.0v1.0h-1.0zM600.2 97.0h1.0v1.0h-1.0zM584.7 109.9h1.0v1.0h-1.0zM627.0 71.6h1.0v1.0h-1.0zM620.8 76.9h1.0v1.0h-1.0zM581.3 116.3h1.0v1.0h-1.0zM588.1 109.0h1.0v1.0h-1.0zM594.1 103.4h1.0v1.0h-1.0zM590.3 105.8h1.0v1.0h-1.0zM583.0 113.3h1.0v1.0h-1.0zM606.9 90.8h1.0v1.0h-1.0zM582.0 114.3h1.0v1.0h-1.0zM592.9 104.4h1.0v1.0h-1.0zM602.1 94.5h1.0v1.0h-1.0zM596.3 101.1h1.0v1.0h-1.0zM589.7 106.9h1.0v1.0h-1.0zM581.8 115.4h1.0v1.0h-1.0zM615.9 81.3h1.0v1.0h-1.0zM581.1 116.1h1.0v1.0h-1.0zM585.5 110.2h1.0v1.0h-1.0zM612.3 85.3h1.0v1.0h-1.0zM593.7 97.7h1.0v1.0h-1.0zM590.7 105.6h1.0v1.0h-1.0zM611.1 87.1h1.0v1.0h-1.0zM587.4 109.3h1.0v1.0h-1.0zM581.4 114.8h1.0v1.0h-1.0zM635.2 62.7h0.8v0.8h-0.8zM581.6 116.4h1.0v1.0h-1.0zM585.0 111.7h1.0v1.0h-1.0zM610.8 86.7h1.0v1.0h-1.0zM582.5 114.5h1.0v1.0h-1.0zM596.5 99.9h1.0v1.0h-1.0zM593.8 103.4h1.0v1.0h-1.0zM602.9 94.2h1.0v1.0h-1.0zM581.8 112.8h1.0v1.0h-1.0zM583.1 114.1h1.0v1.0h-1.0zM581.3 111.8h1.0v1.0h-1.0zM594.8 100.6h1.0v1.0h-1.0zM582.6 111.9h1.0v1.0h-1.0zM588.1 104.7h1.0v1.0h-1.0zM592.0 101.5h1.0v1.0h-1.0zM586.4 107.6h1.0v1.0h-1.0zM585.0 106.4h1.0v1.0h-1.0zM623.0 73.0h1.0v1.0h-1.0zM580.1 113.8h1.0v1.0h-1.0zM585.5 111.0h1.0v1.0h-1.0zM597.8 98.3h1.0v1.0h-1.0zM589.8 105.5h1.0v1.0h-1.0zM580.8 115.6h1.0v1.0h-1.0zM629.2 67.8h1.0v1.0h-1.0zM619.2 79.1h1.0v1.0h-1.0zM586.0 110.7h1.0v1.0h-1.0zM583.8 108.3h1.0v1.0h-1.0zM585.1 110.6h1.0v1.0h-1.0zM590.0 105.7h1.0v1.0h-1.0zM599.1 98.1h1.0v1.0h-1.0zM595.7 99.6h1.0v1.0h-1.0zM591.6 105.1h1.0v1.0h-1.0zM583.1 113.1h1.0v1.0h-1.0zM589.6 106.9h1.0v1.0h-1.0zM584.4 110.2h1.0v1.0h-1.0zM596.9 99.5h1.0v1.0h-1.0zM599.1 97.8h1.0v1.0h-1.0zM593.3 101.1h1.0v1.0h-1.0zM591.7 105.1h1.0v1.0h-1.0zM592.8 103.2h1.0v1.0h-1.0zM595.5 100.2h1.0v1.0h-1.0zM585.5 111.5h1.0v1.0h-1.0zM592.1 104.0h1.0v1.0h-1.0zM604.6 88.4h1.0v1.0h-1.0zM581.6 114.8h1.0v1.0h-1.0zM588.6 107.0h1.0v1.0h-1.0zM604.0 92.9h1.0v1.0h-1.0zM604.3 92.8h1.0v1.0h-1.0zM587.0 108.2h1.0v1.0h-1.0zM613.7 82.8h1.0v1.0h-1.0zM593.7 103.6h1.0v1.0h-1.0zM590.4 103.5h1.0v1.0h-1.0zM602.4 94.7h1.0v1.0h-1.0zM581.3 116.7h1.0v1.0h-1.0zM593.8 98.6h1.0v1.0h-1.0zM590.4 106.9h1.0v1.0h-1.0zM617.1 80.3h1.0v1.0h-1.0zM591.0 105.1h1.0v1.0h-1.0zM585.7 109.2h1.0v1.0h-1.0zM586.7 108.7h1.0v1.0h-1.0zM613.8 82.9h1.0v1.0h-1.0zM587.2 110.0h1.0v1.0h-1.0zM595.7 101.2h1.0v1.0h-1.0zM587.5 109.3h1.0v1.0h-1.0zM612.8 84.5h1.0v1.0h-1.0zM624.0 74.8h1.0v1.0h-1.0zM593.2 99.8h1.0v1.0h-1.0zM594.5 102.9h1.0v1.0h-1.0zM592.1 102.2h1.0v1.0h-1.0zM588.4 108.5h1.0v1.0h-1.0zM586.8 107.3h1.0v1.0h-1.0zM582.3 114.2h1.0v1.0h-1.0zM588.5 106.2h1.0v1.0h-1.0zM639.9 58.4h0.8v0.8h-0.8zM597.3 98.6h1.0v1.0h-1.0zM611.0 87.2h1.0v1.0h-1.0zM585.4 107.6h1.0v1.0h-1.0zM582.7 114.1h1.0v1.0h-1.0zM600.4 95.0h1.0v1.0h-1.0zM587.4 104.0h1.0v1.0h-1.0zM585.4 109.0h1.0v1.0h-1.0zM584.2 112.7h1.0v1.0h-1.0zM595.3 98.5h1.0v1.0h-1.0zM580.2 114.3h1.0v1.0h-1.0zM606.1 87.5h1.0v1.0h-1.0zM612.6 83.4h1.0v1.0h-1.0zM600.1 97.0h1.0v1.0h-1.0zM584.9 109.7h1.0v1.0h-1.0zM592.9 101.9h1.0v1.0h-1.0zM583.1 114.1h1.0v1.0h-1.0zM605.9 91.5h1.0v1.0h-1.0zM593.6 103.3h1.0v1.0h-1.0zM593.9 96.4h1.0v1.0h-1.0zM587.3 109.2h1.0v1.0h-1.0zM588.1 108.3h1.0v1.0h-1.0zM621.6 75.1h1.0v1.0h-1.0zM591.1 105.7h1.0v1.0h-1.0zM596.1 101.0h1.0v1.0h-1.0zM590.5 105.7h1.0v1.0h-1.0zM627.2 69.1h1.0v1.0h-1.0zM620.7 75.9h1.0v1.0h-1.0zM592.1 103.7h1.0v1.0h-1.0zM584.2 110.1h1.0v1.0h-1.0zM586.1 108.8h1.0v1.0h-1.0zM592.4 104.7h1.0v1.0h-1.0zM587.8 107.8h1.0v1.0h-1.0zM644.5 55.1h0.8v0.8h-0.8zM588.0 106.5h1.0v1.0h-1.0zM581.1 114.3h1.0v1.0h-1.0zM584.1 109.9h1.0v1.0h-1.0zM586.7 110.5h1.0v1.0h-1.0zM587.9 108.8h1.0v1.0h-1.0zM602.0 94.6h1.0v1.0h-1.0zM582.7 113.5h1.0v1.0h-1.0zM613.0 85.0h1.0v1.0h-1.0zM603.2 93.8h1.0v1.0h-1.0zM637.0 61.1h0.8v0.8h-0.8zM588.8 103.4h1.0v1.0h-1.0zM602.5 95.1h1.0v1.0h-1.0zM586.4 106.1h1.0v1.0h-1.0zM597.0 99.7h1.0v1.0h-1.0zM591.5 101.9h1.0v1.0h-1.0zM586.2 110.7h1.0v1.0h-1.0zM594.7 100.9h1.0v1.0h-1.0zM588.9 107.2h1.0v1.0h-1.0zM587.3 109.2h1.0v1.0h-1.0zM582.0 113.5h1.0v1.0h-1.0zM586.6 109.8h1.0v1.0h-1.0zM587.3 109.8h1.0v1.0h-1.0zM586.0 110.0h1.0v1.0h-1.0zM622.1 73.7h1.0v1.0h-1.0zM584.0 108.4h1.0v1.0h-1.0zM600.6 96.3h1.0v1.0h-1.0zM599.2 97.0h1.0v1.0h-1.0zM585.2 110.7h1.0v1.0h-1.0zM583.3 111.9h1.0v1.0h-1.0zM624.3 74.3h1.0v1.0h-1.0zM581.9 111.4h1.0v1.0h-1.0zM586.9 109.8h1.0v1.0h-1.0zM598.7 98.6h1.0v1.0h-1.0zM612.3 83.7h1.0v1.0h-1.0zM590.2 105.7h1.0v1.0h-1.0zM586.2 106.8h1.0v1.0h-1.0zM586.7 110.4h1.0v1.0h-1.0zM615.0 83.0h1.0v1.0h-1.0zM582.8 114.2h1.0v1.0h-1.0zM583.2 110.6h1.0v1.0h-1.0zM601.1 95.1h1.0v1.0h-1.0zM605.0 92.3h1.0v1.0h-1.0zM632.6 65.5h0.8v0.8h-0.8zM601.7 95.9h1.0v1.0h-1.0zM589.4 103.9h1.0v1.0h-1.0zM601.1 94.7h1.0v1.0h-1.0zM582.6 113.4h1.0v1.0h-1.0zM581.6 115.5h1.0v1.0h-1.0zM593.0 101.0h1.0v1.0h-1.0zM598.2 98.1h1.0v1.0h-1.0zM588.4 108.4h1.0v1.0h-1.0zM584.5 112.1h1.0v1.0h-1.0zM600.1 96.7h1.0v1.0h-1.0zM584.3 110.3h1.0v1.0h-1.0zM588.3 108.7h1.0v1.0h-1.0zM618.8 78.6h1.0v1.0h-1.0zM610.1 86.4h1.0v1.0h-1.0zM605.7 91.1h1.0v1.0h-1.0zM590.3 104.3h1.0v1.0h-1.0zM612.1 85.2h1.0v1.0h-1.0zM584.2 111.6h1.0v1.0h-1.0zM586.0 110.0h1.0v1.0h-1.0zM581.3 112.8h1.0v1.0h-1.0zM591.6 105.0h1.0v1.0h-1.0zM581.3 116.4h1.0v1.0h-1.0zM604.3 91.2h1.0v1.0h-1.0zM594.7 101.2h1.0v1.0h-1.0zM592.1 104.1h1.0v1.0h-1.0zM581.4 116.6h1.0v1.0h-1.0zM597.6 97.0h1.0v1.0h-1.0zM583.8 109.4h1.0v1.0h-1.0zM581.3 111.7h1.0v1.0h-1.0zM586.6 109.9h1.0v1.0h-1.0zM597.6 97.6h1.0v1.0h-1.0zM606.5 88.3h1.0v1.0h-1.0zM604.7 92.7h1.0v1.0h-1.0zM586.9 109.0h1.0v1.0h-1.0zM593.7 101.2h1.0v1.0h-1.0zM581.0 115.1h1.0v1.0h-1.0zM597.8 98.6h1.0v1.0h-1.0zM632.0 65.8h0.8v0.8h-0.8zM583.3 112.8h1.0v1.0h-1.0zM600.4 95.1h1.0v1.0h-1.0zM590.7 105.7h1.0v1.0h-1.0zM591.0 106.2h1.0v1.0h-1.0zM601.9 92.5h1.0v1.0h-1.0zM608.4 89.7h1.0v1.0h-1.0zM585.9 109.8h1.0v1.0h-1.0zM586.9 108.0h1.0v1.0h-1.0zM599.4 96.5h1.0v1.0h-1.0zM584.7 108.1h1.0v1.0h-1.0zM595.2 101.6h1.0v1.0h-1.0zM587.1 108.9h1.0v1.0h-1.0zM643.1 54.1h0.8v0.8h-0.8zM596.9 98.6h1.0v1.0h-1.0zM581.7 115.0h1.0v1.0h-1.0zM594.6 100.5h1.0v1.0h-1.0zM591.9 104.5h1.0v1.0h-1.0zM619.0 78.6h1.0v1.0h-1.0zM583.9 112.1h1.0v1.0h-1.0zM599.1 96.8h1.0v1.0h-1.0zM595.2 100.3h1.0v1.0h-1.0zM589.0 106.9h1.0v1.0h-1.0zM583.1 111.7h1.0v1.0h-1.0zM615.6 81.6h1.0v1.0h-1.0zM581.9 114.0h1.0v1.0h-1.0zM595.0 102.2h1.0v1.0h-1.0zM595.0 100.8h1.0v1.0h-1.0zM581.7 114.4h1.0v1.0h-1.0zM580.7 113.6h1.0v1.0h-1.0zM602.5 94.1h1.0v1.0h-1.0zM581.2 112.6h1.0v1.0h-1.0zM612.4 85.7h1.0v1.0h-1.0zM582.5 111.6h1.0v1.0h-1.0zM583.0 113.4h1.0v1.0h-1.0zM582.1 115.5h1.0v1.0h-1.0zM595.9 99.8h1.0v1.0h-1.0zM586.8 109.8h1.0v1.0h-1.0zM597.1 98.6h1.0v1.0h-1.0zM593.7 100.3h1.0v1.0h-1.0zM604.3 91.9h1.0v1.0h-1.0zM605.8 90.8h1.0v1.0h-1.0zM587.1 106.4h1.0v1.0h-1.0zM632.9 64.7h0.8v0.8h-0.8zM594.7 102.3h1.0v1.0h-1.0zM581.5 112.9h1.0v1.0h-1.0zM583.7 111.8h1.0v1.0h-1.0zM613.0 84.7h1.0v1.0h-1.0zM582.7 114.1h1.0v1.0h-1.0zM583.4 111.8h1.0v1.0h-1.0zM589.0 107.7h1.0v1.0h-1.0zM616.9 79.4h1.0v1.0h-1.0zM634.1 65.3h0.8v0.8h-0.8zM581.1 111.1h1.0v1.0h-1.0zM581.8 116.0h1.0v1.0h-1.0zM610.9 86.6h1.0v1.0h-1.0zM582.7 112.2h1.0v1.0h-1.0zM588.6 106.6h1.0v1.0h-1.0zM586.7 108.3h1.0v1.0h-1.0zM620.6 77.4h1.0v1.0h-1.0zM591.8 105.2h1.0v1.0h-1.0zM589.4 107.7h1.0v1.0h-1.0zM587.9 109.2h1.0v1.0h-1.0zM591.4 105.4h1.0v1.0h-1.0zM600.6 97.1h1.0v1.0h-1.0zM585.5 109.9h1.0v1.0h-1.0zM594.2 103.3h1.0v1.0h-1.0zM580.8 115.2h1.0v1.0h-1.0zM606.8 90.2h1.0v1.0h-1.0zM598.2 98.5h1.0v1.0h-1.0zM617.2 80.4h1.0v1.0h-1.0zM600.7 96.1h1.0v1.0h-1.0zM591.7 102.4h1.0v1.0h-1.0zM587.3 107.8h1.0v1.0h-1.0zM587.7 108.8h1.0v1.0h-1.0zM660.8 39.8h0.8v0.8h-0.8zM588.3 108.7h1.0v1.0h-1.0zM581.2 116.5h1.0v1.0h-1.0zM594.9 101.0h1.0v1.0h-1.0zM583.0 112.2h1.0v1.0h-1.0zM603.6 93.7h1.0v1.0h-1.0zM629.4 67.8h1.0v1.0h-1.0zM581.9 110.7h1.0v1.0h-1.0zM659.2 41.1h0.8v0.8h-0.8zM581.1 114.2h1.0v1.0h-1.0zM621.8 76.8h1.0v1.0h-1.0zM585.4 110.0h1.0v1.0h-1.0zM584.5 111.4h1.0v1.0h-1.0zM616.2 81.7h1.0v1.0h-1.0zM584.3 112.2h1.0v1.0h-1.0zM580.0 112.8h1.0v1.0h-1.0zM617.8 80.3h1.0v1.0h-1.0zM594.0 102.6h1.0v1.0h-1.0zM598.4 98.1h1.0v1.0h-1.0zM605.2 92.2h1.0v1.0h-1.0zM589.6 106.9h1.0v1.0h-1.0zM589.4 106.2h1.0v1.0h-1.0zM597.7 98.8h1.0v1.0h-1.0zM584.8 110.0h1.0v1.0h-1.0zM581.1 116.1h1.0v1.0h-1.0zM581.7 115.2h1.0v1.0h-1.0zM603.6 93.9h1.0v1.0h-1.0zM583.0 113.2h1.0v1.0h-1.0zM582.2 114.5h1.0v1.0h-1.0zM595.6 100.1h1.0v1.0h-1.0zM599.2 97.2h1.0v1.0h-1.0zM585.4 110.5h1.0v1.0h-1.0zM606.4 91.4h1.0v1.0h-1.0zM648.2 50.8h0.8v0.8h-0.8zM590.7 100.5h1.0v1.0h-1.0zM599.6 97.8h1.0v1.0h-1.0zM587.9 107.7h1.0v1.0h-1.0zM582.6 114.8h1.0v1.0h-1.0zM582.0 112.6h1.0v1.0h-1.0zM583.8 112.3h1.0v1.0h-1.0zM588.4 108.0h1.0v1.0h-1.0zM626.0 72.3h1.0v1.0h-1.0zM607.6 90.3h1.0v1.0h-1.0zM595.9 96.2h1.0v1.0h-1.0zM608.9 87.9h1.0v1.0h-1.0zM582.7 114.2h1.0v1.0h-1.0zM581.7 114.9h1.0v1.0h-1.0zM581.5 114.9h1.0v1.0h-1.0zM587.8 105.0h1.0v1.0h-1.0zM583.8 110.6h1.0v1.0h-1.0zM585.4 110.3h1.0v1.0h-1.0zM606.0 91.6h1.0v1.0h-1.0zM586.2 109.4h1.0v1.0h-1.0zM583.7 113.3h1.0v1.0h-1.0zM617.0 81.2h1.0v1.0h-1.0zM584.7 108.7h1.0v1.0h-1.0zM592.1 104.4h1.0v1.0h-1.0zM596.6 100.3h1.0v1.0h-1.0zM595.7 100.9h1.0v1.0h-1.0zM588.2 108.1h1.0v1.0h-1.0zM615.7 81.5h1.0v1.0h-1.0zM584.9 108.2h1.0v1.0h-1.0zM582.8 114.2h1.0v1.0h-1.0zM583.6 113.4h1.0v1.0h-1.0zM582.0 114.0h1.0v1.0h-1.0zM586.6 107.7h1.0v1.0h-1.0zM601.3 92.8h1.0v1.0h-1.0zM583.2 109.5h1.0v1.0h-1.0zM600.5 95.1h1.0v1.0h-1.0zM590.5 106.3h1.0v1.0h-1.0zM581.2 116.0h1.0v1.0h-1.0zM583.1 114.1h1.0v1.0h-1.0zM582.7 113.1h1.0v1.0h-1.0zM583.2 113.2h1.0v1.0h-1.0zM592.4 103.6h1.0v1.0h-1.0zM625.1 72.6h1.0v1.0h-1.0zM641.8 57.2h0.8v0.8h-0.8zM584.9 109.7h1.0v1.0h-1.0zM581.2 115.2h1.0v1.0h-1.0zM584.7 104.7h1.0v1.0h-1.0zM598.5 96.9h1.0v1.0h-1.0zM652.5 46.4h0.8v0.8h-0.8zM589.3 107.0h1.0v1.0h-1.0zM588.4 106.8h1.0v1.0h-1.0zM586.4 103.7h1.0v1.0h-1.0zM627.0 71.1h1.0v1.0h-1.0zM589.1 108.1h1.0v1.0h-1.0zM613.4 83.9h1.0v1.0h-1.0zM623.0 74.7h1.0v1.0h-1.0zM594.5 102.1h1.0v1.0h-1.0zM643.5 54.1h0.8v0.8h-0.8zM596.8 100.8h1.0v1.0h-1.0zM584.1 110.4h1.0v1.0h-1.0zM601.9 93.8h1.0v1.0h-1.0zM592.9 102.3h1.0v1.0h-1.0zM597.5 98.3h1.0v1.0h-1.0zM584.5 111.2h1.0v1.0h-1.0zM591.6 104.7h1.0v1.0h-1.0zM593.2 102.9h1.0v1.0h-1.0zM626.8 70.4h1.0v1.0h-1.0zM593.8 103.1h1.0v1.0h-1.0zM611.1 86.1h1.0v1.0h-1.0zM598.0 97.8h1.0v1.0h-1.0zM580.6 114.7h1.0v1.0h-1.0zM612.5 85.4h1.0v1.0h-1.0zM585.3 110.7h1.0v1.0h-1.0zM588.1 108.2h1.0v1.0h-1.0zM581.5 113.8h1.0v1.0h-1.0zM600.9 94.9h1.0v1.0h-1.0zM605.9 91.5h1.0v1.0h-1.0zM600.3 95.9h1.0v1.0h-1.0zM588.0 107.3h1.0v1.0h-1.0zM588.5 107.3h1.0v1.0h-1.0zM582.1 115.5h1.0v1.0h-1.0zM603.3 94.4h1.0v1.0h-1.0zM612.2 84.7h1.0v1.0h-1.0zM598.4 98.5h1.0v1.0h-1.0zM608.4 88.8h1.0v1.0h-1.0zM587.8 107.1h1.0v1.0h-1.0zM602.8 94.6h1.0v1.0h-1.0zM588.9 106.1h1.0v1.0h-1.0zM587.7 106.3h1.0v1.0h-1.0zM625.9 70.7h1.0v1.0h-1.0zM597.9 95.2h1.0v1.0h-1.0zM582.3 115.2h1.0v1.0h-1.0zM591.9 103.5h1.0v1.0h-1.0zM604.9 90.8h1.0v1.0h-1.0zM591.6 105.4h1.0v1.0h-1.0zM587.9 104.8h1.0v1.0h-1.0zM592.4 104.3h1.0v1.0h-1.0zM611.2 85.7h1.0v1.0h-1.0zM580.9 115.0h1.0v1.0h-1.0zM595.0 102.2h1.0v1.0h-1.0zM583.1 110.0h1.0v1.0h-1.0zM610.9 86.8h1.0v1.0h-1.0zM595.3 101.7h1.0v1.0h-1.0zM600.9 96.4h1.0v1.0h-1.0zM600.7 95.1h1.0v1.0h-1.0zM594.5 99.4h1.0v1.0h-1.0zM583.5 113.5h1.0v1.0h-1.0zM590.5 100.7h1.0v1.0h-1.0zM586.0 110.9h1.0v1.0h-1.0zM585.0 110.3h1.0v1.0h-1.0zM589.3 105.8h1.0v1.0h-1.0zM585.8 108.7h1.0v1.0h-1.0zM584.4 109.6h1.0v1.0h-1.0zM581.3 115.0h1.0v1.0h-1.0zM592.5 104.5h1.0v1.0h-1.0zM588.6 108.2h1.0v1.0h-1.0zM594.6 101.7h1.0v1.0h-1.0zM586.3 108.7h1.0v1.0h-1.0zM587.5 109.3h1.0v1.0h-1.0zM608.9 88.6h1.0v1.0h-1.0zM595.2 99.4h1.0v1.0h-1.0zM629.6 69.3h1.0v1.0h-1.0zM598.3 98.1h1.0v1.0h-1.0zM615.3 81.3h1.0v1.0h-1.0zM625.6 71.5h1.0v1.0h-1.0zM592.3 103.7h1.0v1.0h-1.0zM583.3 110.7h1.0v1.0h-1.0zM582.8 112.9h1.0v1.0h-1.0zM582.4 114.4h1.0v1.0h-1.0zM634.4 64.2h0.8v0.8h-0.8zM600.7 95.7h1.0v1.0h-1.0zM582.1 115.5h1.0v1.0h-1.0zM586.6 110.0h1.0v1.0h-1.0zM595.8 100.7h1.0v1.0h-1.0zM623.7 74.0h1.0v1.0h-1.0zM582.6 112.4h1.0v1.0h-1.0zM580.2 114.6h1.0v1.0h-1.0zM598.8 98.5h1.0v1.0h-1.0zM590.5 104.2h1.0v1.0h-1.0zM590.5 106.4h1.0v1.0h-1.0zM582.6 113.6h1.0v1.0h-1.0zM630.4 67.6h1.0v1.0h-1.0zM592.9 104.3h1.0v1.0h-1.0zM580.6 112.9h1.0v1.0h-1.0zM594.4 102.7h1.0v1.0h-1.0zM583.1 113.4h1.0v1.0h-1.0zM582.7 109.4h1.0v1.0h-1.0zM580.5 114.9h1.0v1.0h-1.0zM631.6 65.8h0.8v0.8h-0.8zM587.1 108.5h1.0v1.0h-1.0zM583.9 112.6h1.0v1.0h-1.0zM585.7 108.9h1.0v1.0h-1.0zM594.5 101.9h1.0v1.0h-1.0zM596.7 100.5h1.0v1.0h-1.0zM582.7 114.6h1.0v1.0h-1.0zM582.3 112.9h1.0v1.0h-1.0zM599.8 97.2h1.0v1.0h-1.0zM583.0 112.1h1.0v1.0h-1.0zM617.5 80.5h1.0v1.0h-1.0zM581.5 111.5h1.0v1.0h-1.0zM591.7 103.3h1.0v1.0h-1.0zM582.4 113.6h1.0v1.0h-1.0zM593.2 104.0h1.0v1.0h-1.0zM584.0 111.8h1.0v1.0h-1.0zM585.1 111.1h1.0v1.0h-1.0zM593.0 104.1h1.0v1.0h-1.0zM592.6 104.6h1.0v1.0h-1.0zM595.6 101.5h1.0v1.0h-1.0zM582.9 112.6h1.0v1.0h-1.0zM581.2 115.6h1.0v1.0h-1.0zM620.2 78.1h1.0v1.0h-1.0zM583.7 110.0h1.0v1.0h-1.0zM581.4 114.7h1.0v1.0h-1.0zM596.8 100.3h1.0v1.0h-1.0zM601.8 96.0h1.0v1.0h-1.0zM587.7 108.6h1.0v1.0h-1.0zM581.1 116.3h1.0v1.0h-1.0zM589.8 106.7h1.0v1.0h-1.0zM604.2 93.3h1.0v1.0h-1.0zM583.3 113.1h1.0v1.0h-1.0zM584.6 111.5h1.0v1.0h-1.0zM647.0 51.7h0.8v0.8h-0.8zM607.8 90.3h1.0v1.0h-1.0zM605.3 92.0h1.0v1.0h-1.0zM613.8 83.8h1.0v1.0h-1.0zM582.5 114.6h1.0v1.0h-1.0zM640.3 57.5h0.8v0.8h-0.8zM582.0 112.5h1.0v1.0h-1.0zM603.3 91.0h1.0v1.0h-1.0zM609.0 87.7h1.0v1.0h-1.0zM607.7 89.4h1.0v1.0h-1.0zM585.6 108.8h1.0v1.0h-1.0zM582.7 113.9h1.0v1.0h-1.0zM608.4 89.6h1.0v1.0h-1.0zM582.3 110.3h1.0v1.0h-1.0zM582.9 109.1h1.0v1.0h-1.0zM602.8 94.9h1.0v1.0h-1.0zM607.8 89.6h1.0v1.0h-1.0zM610.8 85.1h1.0v1.0h-1.0zM581.5 113.9h1.0v1.0h-1.0zM595.3 99.2h1.0v1.0h-1.0zM607.9 88.3h1.0v1.0h-1.0zM582.9 114.3h1.0v1.0h-1.0zM589.4 106.0h1.0v1.0h-1.0zM584.2 111.3h1.0v1.0h-1.0zM613.6 83.8h1.0v1.0h-1.0zM585.7 110.2h1.0v1.0h-1.0zM590.1 105.2h1.0v1.0h-1.0zM599.8 95.1h1.0v1.0h-1.0zM611.5 86.3h1.0v1.0h-1.0zM587.9 107.7h1.0v1.0h-1.0zM619.5 77.7h1.0v1.0h-1.0zM635.9 62.1h0.8v0.8h-0.8zM584.1 112.3h1.0v1.0h-1.0zM581.3 116.8h1.0v1.0h-1.0zM632.4 66.2h0.8v0.8h-0.8zM582.3 114.1h1.0v1.0h-1.0zM615.5 81.5h1.0v1.0h-1.0zM619.7 76.6h1.0v1.0h-1.0zM595.8 97.2h1.0v1.0h-1.0zM599.2 96.9h1.0v1.0h-1.0zM587.4 106.6h1.0v1.0h-1.0zM592.8 104.2h1.0v1.0h-1.0zM646.9 51.3h0.8v0.8h-0.8zM590.6 105.4h1.0v1.0h-1.0zM620.4 78.1h1.0v1.0h-1.0zM581.3 111.9h1.0v1.0h-1.0zM619.4 77.2h1.0v1.0h-1.0zM588.4 106.6h1.0v1.0h-1.0zM598.8 98.3h1.0v1.0h-1.0zM593.0 101.1h1.0v1.0h-1.0zM648.6 50.0h0.8v0.8h-0.8zM638.9 58.8h0.8v0.8h-0.8zM585.7 109.9h1.0v1.0h-1.0zM608.0 88.2h1.0v1.0h-1.0zM580.9 111.3h1.0v1.0h-1.0zM604.5 93.0h1.0v1.0h-1.0zM586.5 108.9h1.0v1.0h-1.0zM640.5 56.5h0.8v0.8h-0.8zM586.6 109.2h1.0v1.0h-1.0zM590.8 106.1h1.0v1.0h-1.0zM585.2 110.2h1.0v1.0h-1.0zM585.5 110.2h1.0v1.0h-1.0zM622.5 74.1h1.0v1.0h-1.0zM586.8 109.1h1.0v1.0h-1.0zM604.9 90.9h1.0v1.0h-1.0zM605.5 92.1h1.0v1.0h-1.0zM587.5 107.4h1.0v1.0h-1.0zM597.9 98.6h1.0v1.0h-1.0zM605.5 89.4h1.0v1.0h-1.0zM588.0 108.2h1.0v1.0h-1.0zM586.2 110.9h1.0v1.0h-1.0zM605.5 91.9h1.0v1.0h-1.0zM590.0 106.9h1.0v1.0h-1.0zM598.8 98.1h1.0v1.0h-1.0zM598.1 98.4h1.0v1.0h-1.0zM630.0 66.7h1.0v1.0h-1.0zM589.3 107.3h1.0v1.0h-1.0zM616.8 80.4h1.0v1.0h-1.0zM592.8 102.5h1.0v1.0h-1.0zM585.9 107.1h1.0v1.0h-1.0zM588.0 105.0h1.0v1.0h-1.0zM596.1 101.4h1.0v1.0h-1.0zM595.7 101.3h1.0v1.0h-1.0zM611.8 83.5h1.0v1.0h-1.0zM600.6 97.1h1.0v1.0h-1.0zM620.4 75.7h1.0v1.0h-1.0zM599.1 97.9h1.0v1.0h-1.0zM602.2 95.0h1.0v1.0h-1.0zM585.0 109.3h1.0v1.0h-1.0zM585.7 110.1h1.0v1.0h-1.0zM583.7 110.5h1.0v1.0h-1.0zM609.0 87.8h1.0v1.0h-1.0zM600.6 94.1h1.0v1.0h-1.0zM581.2 116.6h1.0v1.0h-1.0zM583.4 113.7h1.0v1.0h-1.0zM594.8 102.0h1.0v1.0h-1.0zM581.7 115.8h1.0v1.0h-1.0zM598.1 98.8h1.0v1.0h-1.0zM587.2 108.6h1.0v1.0h-1.0zM584.5 111.9h1.0v1.0h-1.0zM610.1 87.7h1.0v1.0h-1.0zM581.7 116.2h1.0v1.0h-1.0zM589.1 105.4h1.0v1.0h-1.0zM595.9 100.6h1.0v1.0h-1.0zM592.9 103.3h1.0v1.0h-1.0zM609.6 87.9h1.0v1.0h-1.0zM587.4 109.0h1.0v1.0h-1.0zM583.3 113.8h1.0v1.0h-1.0zM601.0 96.3h1.0v1.0h-1.0zM583.2 111.4h1.0v1.0h-1.0zM586.0 109.9h1.0v1.0h-1.0zM589.3 104.7h1.0v1.0h-1.0zM602.3 95.1h1.0v1.0h-1.0zM601.6 94.8h1.0v1.0h-1.0zM603.4 90.8h1.0v1.0h-1.0zM602.8 93.8h1.0v1.0h-1.0zM582.4 110.0h1.0v1.0h-1.0zM598.4 99.0h1.0v1.0h-1.0zM587.7 107.9h1.0v1.0h-1.0zM585.8 108.6h1.0v1.0h-1.0zM582.5 111.4h1.0v1.0h-1.0zM589.7 104.1h1.0v1.0h-1.0zM581.8 113.5h1.0v1.0h-1.0zM622.8 73.3h1.0v1.0h-1.0zM611.4 86.4h1.0v1.0h-1.0zM593.0 103.7h1.0v1.0h-1.0zM583.3 108.8h1.0v1.0h-1.0zM631.3 65.0h0.8v0.8h-0.8zM603.1 92.4h1.0v1.0h-1.0zM580.4 111.1h1.0v1.0h-1.0zM596.4 101.0h1.0v1.0h-1.0zM608.3 89.7h1.0v1.0h-1.0zM581.3 115.3h1.0v1.0h-1.0zM586.8 108.7h1.0v1.0h-1.0zM618.4 78.1h1.0v1.0h-1.0zM585.5 111.3h1.0v1.0h-1.0zM588.1 106.8h1.0v1.0h-1.0zM583.7 111.5h1.0v1.0h-1.0zM595.4 100.1h1.0v1.0h-1.0zM581.2 114.4h1.0v1.0h-1.0zM581.3 114.9h1.0v1.0h-1.0zM603.0 94.6h1.0v1.0h-1.0zM599.1 97.9h1.0v1.0h-1.0zM622.6 74.1h1.0v1.0h-1.0zM584.7 110.7h1.0v1.0h-1.0zM608.5 89.6h1.0v1.0h-1.0zM598.7 99.0h1.0v1.0h-1.0zM646.7 51.2h0.8v0.8h-0.8zM581.9 115.7h1.0v1.0h-1.0zM598.4 95.0h1.0v1.0h-1.0zM598.3 98.1h1.0v1.0h-1.0zM581.4 116.3h1.0v1.0h-1.0zM581.2 113.0h1.0v1.0h-1.0zM610.0 87.8h1.0v1.0h-1.0zM592.1 102.5h1.0v1.0h-1.0zM625.2 73.7h1.0v1.0h-1.0zM594.7 101.8h1.0v1.0h-1.0zM595.8 99.7h1.0v1.0h-1.0zM581.3 114.1h1.0v1.0h-1.0zM585.6 103.7h1.0v1.0h-1.0zM581.2 115.9h1.0v1.0h-1.0zM581.3 112.4h1.0v1.0h-1.0zM584.3 111.8h1.0v1.0h-1.0zM594.6 102.5h1.0v1.0h-1.0zM582.4 114.5h1.0v1.0h-1.0zM580.7 112.7h1.0v1.0h-1.0zM587.1 110.0h1.0v1.0h-1.0zM648.7 49.5h0.8v0.8h-0.8zM582.5 113.8h1.0v1.0h-1.0zM590.2 104.5h1.0v1.0h-1.0zM596.3 98.8h1.0v1.0h-1.0zM607.7 87.4h1.0v1.0h-1.0zM613.2 85.0h1.0v1.0h-1.0zM614.5 83.5h1.0v1.0h-1.0zM617.6 79.4h1.0v1.0h-1.0zM600.6 93.3h1.0v1.0h-1.0zM586.5 109.5h1.0v1.0h-1.0zM590.4 105.4h1.0v1.0h-1.0zM598.2 96.6h1.0v1.0h-1.0zM605.1 91.7h1.0v1.0h-1.0zM585.6 111.1h1.0v1.0h-1.0zM619.6 78.8h1.0v1.0h-1.0zM587.6 109.2h1.0v1.0h-1.0zM607.6 87.7h1.0v1.0h-1.0zM582.4 114.1h1.0v1.0h-1.0zM588.0 107.6h1.0v1.0h-1.0zM640.3 57.6h0.8v0.8h-0.8zM629.9 67.9h1.0v1.0h-1.0zM601.3 95.8h1.0v1.0h-1.0zM586.7 110.3h1.0v1.0h-1.0zM581.5 116.5h1.0v1.0h-1.0zM582.2 111.1h1.0v1.0h-1.0zM600.9 95.8h1.0v1.0h-1.0zM583.9 109.6h1.0v1.0h-1.0zM581.6 116.1h1.0v1.0h-1.0zM639.6 58.3h0.8v0.8h-0.8zM598.6 96.8h1.0v1.0h-1.0zM581.5 114.7h1.0v1.0h-1.0zM581.4 116.4h1.0v1.0h-1.0zM592.4 104.1h1.0v1.0h-1.0zM601.3 96.0h1.0v1.0h-1.0zM581.0 112.9h1.0v1.0h-1.0zM589.7 106.8h1.0v1.0h-1.0zM581.7 113.8h1.0v1.0h-1.0zM588.1 108.9h1.0v1.0h-1.0zM585.0 111.6h1.0v1.0h-1.0zM607.7 86.5h1.0v1.0h-1.0zM622.6 75.6h1.0v1.0h-1.0zM596.2 100.7h1.0v1.0h-1.0zM582.2 114.2h1.0v1.0h-1.0z" fill="#9c2aa0"/>
<path d="M593.5 111.8h1.0v1.0h-1.0zM588.0 120.7h1.0v1.0h-1.0zM587.5 117.8h1.0v1.0h-1.0zM586.9 117.0h1.0v1.0h-1.0zM590.2 115.2h1.0v1.0h-1.0zM590.2 115.4h1.0v1.0h-1.0zM591.5 114.9h1.0v1.0h-1.0zM589.2 116.9h1.0v1.0h-1.0zM593.8 112.0h1.0v1.0h-1.0zM621.4 85.1h1.0v1.0h-1.0zM603.9 101.0h1.0v1.0h-1.0zM595.0 110.0h1.0v1.0h-1.0zM595.2 108.9h1.0v1.0h-1.0zM596.2 108.5h1.0v1.0h-1.0zM589.3 115.3h1.0v1.0h-1.0zM592.3 111.8h1.0v1.0h-1.0zM633.8 72.3h1.0v1.0h-1.0zM599.0 105.2h1.0v1.0h-1.0zM644.3 64.3h0.8v0.8h-0.8zM589.4 115.0h1.0v1.0h-1.0zM620.0 85.1h1.0v1.0h-1.0zM631.0 75.8h1.0v1.0h-1.0zM585.8 118.4h1.0v1.0h-1.0zM603.8 100.9h1.0v1.0h-1.0zM587.4 118.2h1.0v1.0h-1.0zM598.1 108.0h1.0v1.0h-1.0zM598.0 106.3h1.0v1.0h-1.0zM597.6 108.6h1.0v1.0h-1.0zM614.0 92.1h1.0v1.0h-1.0zM608.7 96.7h1.0v1.0h-1.0zM588.5 116.7h1.0v1.0h-1.0zM600.7 104.0h1.0v1.0h-1.0zM587.4 117.3h1.0v1.0h-1.0zM634.9 71.8h1.0v1.0h-1.0zM597.1 107.2h1.0v1.0h-1.0zM597.6 109.0h1.0v1.0h-1.0zM616.3 88.6h1.0v1.0h-1.0zM595.4 109.2h1.0v1.0h-1.0zM596.1 112.8h1.0v1.0h-1.0zM604.7 101.2h1.0v1.0h-1.0zM618.3 91.6h1.0v1.0h-1.0zM590.8 115.5h1.0v1.0h-1.0zM587.1 117.1h1.0v1.0h-1.0zM586.8 117.6h1.0v1.0h-1.0zM597.4 106.8h1.0v1.0h-1.0zM623.6 82.4h1.0v1.0h-1.0zM600.1 104.4h1.0v1.0h-1.0zM594.7 111.4h1.0v1.0h-1.0zM640.9 65.8h0.8v0.8h-0.8zM595.7 112.4h1.0v1.0h-1.0zM592.4 115.5h1.0v1.0h-1.0zM598.0 106.8h1.0v1.0h-1.0zM614.1 91.6h1.0v1.0h-1.0zM590.2 115.6h1.0v1.0h-1.0zM600.5 104.8h1.0v1.0h-1.0zM590.2 117.8h1.0v1.0h-1.0zM626.1 81.3h1.0v1.0h-1.0zM589.2 115.0h1.0v1.0h-1.0zM597.5 106.8h1.0v1.0h-1.0zM601.9 102.8h1.0v1.0h-1.0zM604.1 100.2h1.0v1.0h-1.0zM604.5 100.0h1.0v1.0h-1.0zM603.7 102.4h1.0v1.0h-1.0zM591.4 117.2h1.0v1.0h-1.0zM642.3 66.3h0.8v0.8h-0.8zM589.9 115.8h1.0v1.0h-1.0zM593.0 112.6h1.0v1.0h-1.0zM590.2 116.5h1.0v1.0h-1.0zM590.2 114.6h1.0v1.0h-1.0zM594.0 110.1h1.0v1.0h-1.0zM600.9 105.5h1.0v1.0h-1.0zM606.3 98.8h1.0v1.0h-1.0zM587.7 116.2h1.0v1.0h-1.0zM587.2 116.3h1.0v1.0h-1.0zM643.9 63.9h0.8v0.8h-0.8zM607.6 100.0h1.0v1.0h-1.0zM588.1 115.7h1.0v1.0h-1.0zM615.6 90.4h1.0v1.0h-1.0zM618.8 87.5h1.0v1.0h-1.0zM609.3 99.0h1.0v1.0h-1.0zM607.6 101.0h1.0v1.0h-1.0zM590.4 114.8h1.0v1.0h-1.0zM589.1 119.9h1.0v1.0h-1.0zM647.7 59.9h0.8v0.8h-0.8zM594.5 110.8h1.0v1.0h-1.0zM589.9 114.6h1.0v1.0h-1.0zM585.7 117.6h1.0v1.0h-1.0zM605.6 99.0h1.0v1.0h-1.0zM593.5 113.9h1.0v1.0h-1.0zM589.1 117.0h1.0v1.0h-1.0zM587.7 117.1h1.0v1.0h-1.0zM592.9 111.1h1.0v1.0h-1.0zM613.7 92.1h1.0v1.0h-1.0zM600.4 104.7h1.0v1.0h-1.0zM613.4 93.6h1.0v1.0h-1.0zM586.2 118.0h1.0v1.0h-1.0zM589.2 116.8h1.0v1.0h-1.0zM586.4 117.7h1.0v1.0h-1.0zM594.5 110.4h1.0v1.0h-1.0zM608.6 98.5h1.0v1.0h-1.0zM590.6 113.8h1.0v1.0h-1.0zM606.6 100.5h1.0v1.0h-1.0zM592.3 114.4h1.0v1.0h-1.0zM589.9 114.6h1.0v1.0h-1.0zM616.0 89.7h1.0v1.0h-1.0zM641.7 65.1h0.8v0.8h-0.8zM586.5 118.5h1.0v1.0h-1.0zM633.5 74.6h1.0v1.0h-1.0zM589.0 116.5h1.0v1.0h-1.0zM593.0 112.4h1.0v1.0h-1.0zM597.6 106.5h1.0v1.0h-1.0zM593.3 111.4h1.0v1.0h-1.0zM589.7 114.7h1.0v1.0h-1.0zM596.3 108.8h1.0v1.0h-1.0zM611.1 94.7h1.0v1.0h-1.0zM633.7 73.6h1.0v1.0h-1.0zM595.5 109.4h1.0v1.0h-1.0zM656.1 52.0h0.8v0.8h-0.8zM595.9 109.2h1.0v1.0h-1.0zM609.5 96.0h1.0v1.0h-1.0zM595.3 110.3h1.0v1.0h-1.0zM643.6 62.7h0.8v0.8h-0.8zM610.5 94.5h1.0v1.0h-1.0zM587.7 116.6h1.0v1.0h-1.0zM616.4 88.8h1.0v1.0h-1.0zM594.6 110.3h1.0v1.0h-1.0zM586.4 117.1h1.0v1.0h-1.0zM592.4 117.0h1.0v1.0h-1.0zM625.6 82.7h1.0v1.0h-1.0zM590.9 114.1h1.0v1.0h-1.0zM606.7 97.8h1.0v1.0h-1.0zM641.2 65.1h0.8v0.8h-0.8zM591.5 112.2h1.0v1.0h-1.0zM587.8 117.4h1.0v1.0h-1.0zM591.8 113.5h1.0v1.0h-1.0zM589.5 117.3h1.0v1.0h-1.0zM617.9 92.5h1.0v1.0h-1.0zM601.7 104.2h1.0v1.0h-1.0zM639.8 68.4h0.8v0.8h-0.8zM594.1 113.2h1.0v1.0h-1.0zM592.2 112.2h1.0v1.0h-1.0zM627.8 78.7h1.0v1.0h-1.0zM623.2 81.9h1.0v1.0h-1.0zM613.9 91.9h1.0v1.0h-1.0zM607.4 97.0h1.0v1.0h-1.0zM604.9 102.6h1.0v1.0h-1.0zM617.5 88.5h1.0v1.0h-1.0zM615.6 90.5h1.0v1.0h-1.0zM618.3 88.3h1.0v1.0h-1.0zM635.1 72.6h1.0v1.0h-1.0zM604.8 102.9h1.0v1.0h-1.0zM595.6 109.5h1.0v1.0h-1.0zM611.8 93.4h1.0v1.0h-1.0zM593.7 114.2h1.0v1.0h-1.0zM585.8 117.4h1.0v1.0h-1.0zM588.9 115.1h1.0v1.0h-1.0zM585.0 117.8h1.0v1.0h-1.0zM594.0 111.2h1.0v1.0h-1.0zM640.7 67.8h0.8v0.8h-0.8zM626.5 81.0h1.0v1.0h-1.0zM621.5 84.1h1.0v1.0h-1.0zM615.9 89.2h1.0v1.0h-1.0zM597.7 109.7h1.0v1.0h-1.0zM589.4 116.4h1.0v1.0h-1.0zM593.8 113.1h1.0v1.0h-1.0zM628.2 77.2h1.0v1.0h-1.0zM594.4 109.8h1.0v1.0h-1.0zM598.4 107.6h1.0v1.0h-1.0zM612.3 93.0h1.0v1.0h-1.0zM613.5 92.0h1.0v1.0h-1.0zM623.3 83.2h1.0v1.0h-1.0zM606.3 98.1h1.0v1.0h-1.0zM588.4 115.8h1.0v1.0h-1.0zM588.7 116.7h1.0v1.0h-1.0zM596.8 107.7h1.0v1.0h-1.0zM599.3 105.6h1.0v1.0h-1.0zM588.9 117.0h1.0v1.0h-1.0zM620.9 85.0h1.0v1.0h-1.0zM631.1 75.9h1.0v1.0h-1.0zM627.0 81.2h1.0v1.0h-1.0zM633.4 74.0h1.0v1.0h-1.0zM594.1 110.1h1.0v1.0h-1.0zM589.6 114.4h1.0v1.0h-1.0zM596.4 109.5h1.0v1.0h-1.0zM590.4 116.1h1.0v1.0h-1.0zM597.7 107.4h1.0v1.0h-1.0zM589.5 116.7h1.0v1.0h-1.0zM606.9 97.4h1.0v1.0h-1.0zM591.5 115.5h1.0v1.0h-1.0zM631.2 75.5h1.0v1.0h-1.0zM585.7 118.4h1.0v1.0h-1.0zM605.0 100.5h1.0v1.0h-1.0zM592.3 113.2h1.0v1.0h-1.0zM589.3 114.7h1.0v1.0h-1.0zM601.8 103.3h1.0v1.0h-1.0zM587.3 116.4h1.0v1.0h-1.0zM591.3 113.2h1.0v1.0h-1.0zM588.9 117.0h1.0v1.0h-1.0zM596.1 108.0h1.0v1.0h-1.0zM595.9 108.8h1.0v1.0h-1.0zM588.8 117.5h1.0v1.0h-1.0zM606.6 99.4h1.0v1.0h-1.0zM594.2 110.0h1.0v1.0h-1.0zM605.5 99.6h1.0v1.0h-1.0zM603.1 108.3h1.0v1.0h-1.0zM608.2 97.7h1.0v1.0h-1.0zM594.4 111.6h1.0v1.0h-1.0zM591.9 114.7h1.0v1.0h-1.0zM637.8 68.4h0.8v0.8h-0.8zM618.5 86.8h1.0v1.0h-1.0zM592.9 113.5h1.0v1.0h-1.0zM598.9 106.1h1.0v1.0h-1.0zM626.3 81.5h1.0v1.0h-1.0zM592.3 113.8h1.0v1.0h-1.0zM625.1 81.2h1.0v1.0h-1.0zM632.1 74.3h1.0v1.0h-1.0zM601.7 104.0h1.0v1.0h-1.0zM590.2 114.9h1.0v1.0h-1.0zM628.7 78.3h1.0v1.0h-1.0zM591.6 112.7h1.0v1.0h-1.0zM608.1 97.0h1.0v1.0h-1.0zM600.5 107.6h1.0v1.0h-1.0zM586.4 118.3h1.0v1.0h-1.0zM609.2 96.1h1.0v1.0h-1.0zM594.6 112.6h1.0v1.0h-1.0zM601.4 104.7h1.0v1.0h-1.0zM606.3 98.3h1.0v1.0h-1.0zM586.4 117.5h1.0v1.0h-1.0zM604.6 100.6h1.0v1.0h-1.0zM593.2 112.7h1.0v1.0h-1.0zM589.4 114.5h1.0v1.0h-1.0zM650.2 56.6h0.8v0.8h-0.8zM587.1 116.5h1.0v1.0h-1.0zM609.0 97.3h1.0v1.0h-1.0zM612.9 93.2h1.0v1.0h-1.0zM601.0 104.0h1.0v1.0h-1.0zM595.1 112.5h1.0v1.0h-1.0zM599.5 105.8h1.0v1.0h-1.0zM591.9 120.1h1.0v1.0h-1.0zM612.5 93.7h1.0v1.0h-1.0zM600.1 105.7h1.0v1.0h-1.0zM596.0 112.7h1.0v1.0h-1.0zM601.8 103.5h1.0v1.0h-1.0zM592.8 111.5h1.0v1.0h-1.0zM613.7 94.4h1.0v1.0h-1.0zM605.6 99.9h1.0v1.0h-1.0zM602.4 104.5h1.0v1.0h-1.0zM619.6 86.4h1.0v1.0h-1.0zM585.4 117.6h1.0v1.0h-1.0zM610.3 95.9h1.0v1.0h-1.0zM627.7 79.4h1.0v1.0h-1.0zM632.8 73.0h1.0v1.0h-1.0zM587.0 118.0h1.0v1.0h-1.0zM594.6 109.4h1.0v1.0h-1.0zM603.5 102.0h1.0v1.0h-1.0zM596.4 107.8h1.0v1.0h-1.0zM590.7 114.4h1.0v1.0h-1.0zM630.0 76.6h1.0v1.0h-1.0zM614.7 91.9h1.0v1.0h-1.0zM595.7 109.5h1.0v1.0h-1.0zM596.3 109.1h1.0v1.0h-1.0zM609.6 96.3h1.0v1.0h-1.0zM664.1 43.3h0.8v0.8h-0.8zM587.2 117.5h1.0v1.0h-1.0zM614.9 90.9h1.0v1.0h-1.0zM597.4 109.8h1.0v1.0h-1.0zM595.7 108.8h1.0v1.0h-1.0zM632.7 73.3h1.0v1.0h-1.0zM614.7 90.7h1.0v1.0h-1.0zM591.9 112.7h1.0v1.0h-1.0zM632.1 74.1h1.0v1.0h-1.0zM588.9 115.3h1.0v1.0h-1.0zM602.7 104.5h1.0v1.0h-1.0zM598.0 106.6h1.0v1.0h-1.0zM596.5 111.0h1.0v1.0h-1.0zM605.8 100.8h1.0v1.0h-1.0zM590.8 116.7h1.0v1.0h-1.0zM630.3 75.5h1.0v1.0h-1.0zM599.0 105.9h1.0v1.0h-1.0zM595.8 108.8h1.0v1.0h-1.0zM590.6 114.9h1.0v1.0h-1.0zM600.9 104.9h1.0v1.0h-1.0zM624.2 83.2h1.0v1.0h-1.0zM588.9 118.7h1.0v1.0h-1.0zM645.6 61.4h0.8v0.8h-0.8zM589.1 116.3h1.0v1.0h-1.0zM591.0 114.5h1.0v1.0h-1.0zM605.6 100.3h1.0v1.0h-1.0zM638.9 69.4h0.8v0.8h-0.8zM593.1 112.6h1.0v1.0h-1.0zM591.3 114.0h1.0v1.0h-1.0zM588.8 115.9h1.0v1.0h-1.0zM603.9 100.4h1.0v1.0h-1.0zM632.3 75.7h1.0v1.0h-1.0zM594.1 109.9h1.0v1.0h-1.0zM590.9 113.0h1.0v1.0h-1.0zM626.8 80.3h1.0v1.0h-1.0zM586.4 117.9h1.0v1.0h-1.0zM590.6 114.9h1.0v1.0h-1.0zM645.5 61.7h0.8v0.8h-0.8zM586.1 118.8h1.0v1.0h-1.0zM610.8 97.8h1.0v1.0h-1.0zM588.0 117.6h1.0v1.0h-1.0zM602.6 103.6h1.0v1.0h-1.0zM587.4 116.5h1.0v1.0h-1.0zM625.8 80.2h1.0v1.0h-1.0zM588.1 117.2h1.0v1.0h-1.0zM588.4 117.5h1.0v1.0h-1.0zM600.3 105.5h1.0v1.0h-1.0zM594.0 110.0h1.0v1.0h-1.0zM616.5 90.8h1.0v1.0h-1.0zM586.5 118.3h1.0v1.0h-1.0zM610.1 94.6h1.0v1.0h-1.0zM604.4 100.8h1.0v1.0h-1.0zM631.1 76.1h1.0v1.0h-1.0zM585.7 118.4h1.0v1.0h-1.0zM603.2 101.8h1.0v1.0h-1.0zM593.3 115.4h1.0v1.0h-1.0zM587.3 116.6h1.0v1.0h-1.0zM592.5 113.9h1.0v1.0h-1.0zM588.3 117.1h1.0v1.0h-1.0zM587.2 117.8h1.0v1.0h-1.0zM602.8 103.5h1.0v1.0h-1.0zM597.0 107.4h1.0v1.0h-1.0zM607.0 98.0h1.0v1.0h-1.0zM587.9 116.7h1.0v1.0h-1.0zM586.4 118.3h1.0v1.0h-1.0zM586.4 118.4h1.0v1.0h-1.0zM591.5 112.5h1.0v1.0h-1.0zM594.8 112.0h1.0v1.0h-1.0zM594.4 109.9h1.0v1.0h-1.0zM629.5 76.1h1.0v1.0h-1.0zM596.6 108.3h1.0v1.0h-1.0zM614.8 92.0h1.0v1.0h-1.0zM633.0 72.9h1.0v1.0h-1.0zM587.5 118.0h1.0v1.0h-1.0zM607.7 100.8h1.0v1.0h-1.0zM607.7 98.8h1.0v1.0h-1.0zM586.2 117.3h1.0v1.0h-1.0zM607.3 97.5h1.0v1.0h-1.0zM606.3 99.8h1.0v1.0h-1.0zM653.7 54.7h0.8v0.8h-0.8zM608.1 97.9h1.0v1.0h-1.0zM621.7 84.8h1.0v1.0h-1.0zM588.2 119.1h1.0v1.0h-1.0zM593.0 112.9h1.0v1.0h-1.0zM592.5 114.3h1.0v1.0h-1.0zM600.9 105.0h1.0v1.0h-1.0zM603.7 102.7h1.0v1.0h-1.0zM597.6 107.2h1.0v1.0h-1.0zM592.3 113.1h1.0v1.0h-1.0zM589.5 115.9h1.0v1.0h-1.0zM597.6 108.3h1.0v1.0h-1.0zM587.8 115.8h1.0v1.0h-1.0zM590.1 114.0h1.0v1.0h-1.0zM598.7 108.3h1.0v1.0h-1.0zM631.1 75.2h1.0v1.0h-1.0zM606.2 98.2h1.0v1.0h-1.0zM595.9 108.1h1.0v1.0h-1.0zM592.7 112.4h1.0v1.0h-1.0zM592.1 111.7h1.0v1.0h-1.0zM590.7 116.5h1.0v1.0h-1.0zM603.7 101.6h1.0v1.0h-1.0zM591.2 115.2h1.0v1.0h-1.0zM594.8 114.2h1.0v1.0h-1.0zM604.4 100.7h1.0v1.0h-1.0zM613.4 91.4h1.0v1.0h-1.0zM613.3 92.8h1.0v1.0h-1.0zM596.6 108.4h1.0v1.0h-1.0zM606.9 98.4h1.0v1.0h-1.0zM618.5 87.4h1.0v1.0h-1.0zM591.7 113.7h1.0v1.0h-1.0zM588.2 116.3h1.0v1.0h-1.0zM618.9 86.9h1.0v1.0h-1.0zM618.9 87.2h1.0v1.0h-1.0zM611.2 94.4h1.0v1.0h-1.0zM587.2 117.9h1.0v1.0h-1.0zM600.9 104.4h1.0v1.0h-1.0zM610.3 95.2h1.0v1.0h-1.0zM604.9 100.2h1.0v1.0h-1.0zM604.6 100.5h1.0v1.0h-1.0zM591.0 114.0h1.0v1.0h-1.0zM590.9 116.7h1.0v1.0h-1.0zM599.5 104.8h1.0v1.0h-1.0zM602.8 101.8h1.0v1.0h-1.0zM597.3 107.6h1.0v1.0h-1.0zM594.2 110.6h1.0v1.0h-1.0zM626.2 79.8h1.0v1.0h-1.0zM591.3 116.6h1.0v1.0h-1.0zM594.4 112.9h1.0v1.0h-1.0zM590.1 114.4h1.0v1.0h-1.0zM596.1 108.5h1.0v1.0h-1.0zM588.7 114.9h1.0v1.0h-1.0zM611.6 94.0h1.0v1.0h-1.0zM613.7 92.5h1.0v1.0h-1.0zM589.5 114.2h1.0v1.0h-1.0zM586.5 118.4h1.0v1.0h-1.0zM588.8 115.7h1.0v1.0h-1.0zM592.3 111.4h1.0v1.0h-1.0zM597.1 107.5h1.0v1.0h-1.0zM656.1 50.8h0.8v0.8h-0.8zM597.7 109.0h1.0v1.0h-1.0zM622.8 84.3h1.0v1.0h-1.0zM592.4 113.3h1.0v1.0h-1.0zM586.1 118.3h1.0v1.0h-1.0zM593.5 112.5h1.0v1.0h-1.0zM592.2 113.5h1.0v1.0h-1.0zM617.9 87.7h1.0v1.0h-1.0zM593.0 112.5h1.0v1.0h-1.0zM588.1 117.1h1.0v1.0h-1.0zM594.7 111.6h1.0v1.0h-1.0zM613.5 93.9h1.0v1.0h-1.0zM608.2 97.0h1.0v1.0h-1.0zM590.2 116.6h1.0v1.0h-1.0zM596.7 107.9h1.0v1.0h-1.0zM588.8 116.3h1.0v1.0h-1.0zM590.9 115.5h1.0v1.0h-1.0zM587.1 117.3h1.0v1.0h-1.0zM591.2 113.3h1.0v1.0h-1.0zM588.1 118.3h1.0v1.0h-1.0zM590.8 113.1h1.0v1.0h-1.0zM599.5 107.0h1.0v1.0h-1.0zM589.9 116.2h1.0v1.0h-1.0zM617.0 90.0h1.0v1.0h-1.0zM595.4 109.8h1.0v1.0h-1.0zM615.2 89.9h1.0v1.0h-1.0zM649.4 59.1h0.8v0.8h-0.8zM616.2 89.7h1.0v1.0h-1.0zM605.6 99.9h1.0v1.0h-1.0zM620.1 85.7h1.0v1.0h-1.0zM585.9 118.8h1.0v1.0h-1.0zM587.9 117.0h1.0v1.0h-1.0zM592.0 115.7h1.0v1.0h-1.0zM595.5 110.4h1.0v1.0h-1.0zM591.8 115.4h1.0v1.0h-1.0zM589.6 115.8h1.0v1.0h-1.0zM631.9 76.1h1.0v1.0h-1.0zM606.0 99.1h1.0v1.0h-1.0zM612.2 93.4h1.0v1.0h-1.0zM590.2 113.9h1.0v1.0h-1.0zM616.0 88.8h1.0v1.0h-1.0zM590.4 116.6h1.0v1.0h-1.0zM640.1 67.2h0.8v0.8h-0.8zM609.9 96.0h1.0v1.0h-1.0zM621.8 83.8h1.0v1.0h-1.0zM608.1 97.2h1.0v1.0h-1.0zM594.0 111.0h1.0v1.0h-1.0zM595.6 108.5h1.0v1.0h-1.0zM612.2 93.2h1.0v1.0h-1.0zM615.3 91.7h1.0v1.0h-1.0zM590.7 114.6h1.0v1.0h-1.0zM600.4 105.3h1.0v1.0h-1.0zM596.2 111.2h1.0v1.0h-1.0zM615.9 88.9h1.0v1.0h-1.0zM600.9 103.9h1.0v1.0h-1.0zM590.7 113.8h1.0v1.0h-1.0zM612.4 93.5h1.0v1.0h-1.0zM605.6 101.5h1.0v1.0h-1.0zM588.8 116.6h1.0v1.0h-1.0zM587.6 117.2h1.0v1.0h-1.0zM620.5 85.1h1.0v1.0h-1.0zM599.9 104.9h1.0v1.0h-1.0zM596.7 109.3h1.0v1.0h-1.0zM616.8 88.4h1.0v1.0h-1.0zM632.9 74.8h1.0v1.0h-1.0zM598.2 106.3h1.0v1.0h-1.0zM611.8 93.7h1.0v1.0h-1.0zM600.8 106.1h1.0v1.0h-1.0zM592.8 111.7h1.0v1.0h-1.0zM605.2 99.2h1.0v1.0h-1.0zM598.4 105.6h1.0v1.0h-1.0zM621.0 84.6h1.0v1.0h-1.0zM589.9 115.1h1.0v1.0h-1.0zM596.5 108.2h1.0v1.0h-1.0zM591.5 114.2h1.0v1.0h-1.0zM607.3 97.5h1.0v1.0h-1.0zM589.6 115.9h1.0v1.0h-1.0zM605.5 98.9h1.0v1.0h-1.0zM590.1 117.0h1.0v1.0h-1.0zM632.6 74.0h1.0v1.0h-1.0zM586.0 118.6h1.0v1.0h-1.0zM594.8 109.8h1.0v1.0h-1.0zM616.4 89.3h1.0v1.0h-1.0zM624.5 81.9h1.0v1.0h-1.0zM600.0 106.4h1.0v1.0h-1.0zM599.0 105.6h1.0v1.0h-1.0zM586.5 118.8h1.0v1.0h-1.0zM602.6 102.7h1.0v1.0h-1.0zM591.5 114.2h1.0v1.0h-1.0zM607.8 97.3h1.0v1.0h-1.0zM604.6 102.1h1.0v1.0h-1.0zM595.1 109.9h1.0v1.0h-1.0zM587.8 118.1h1.0v1.0h-1.0zM590.4 113.7h1.0v1.0h-1.0zM614.3 91.6h1.0v1.0h-1.0zM609.5 98.5h1.0v1.0h-1.0zM608.0 98.0h1.0v1.0h-1.0zM588.7 116.9h1.0v1.0h-1.0zM587.1 117.7h1.0v1.0h-1.0zM591.5 114.2h1.0v1.0h-1.0zM588.9 115.1h1.0v1.0h-1.0zM592.3 113.8h1.0v1.0h-1.0zM610.6 96.4h1.0v1.0h-1.0zM587.1 118.2h1.0v1.0h-1.0zM588.4 115.7h1.0v1.0h-1.0zM609.9 94.7h1.0v1.0h-1.0zM594.6 110.4h1.0v1.0h-1.0zM625.6 80.9h1.0v1.0h-1.0zM595.9 110.5h1.0v1.0h-1.0zM592.0 114.5h1.0v1.0h-1.0zM630.5 75.2h1.0v1.0h-1.0zM607.5 98.5h1.0v1.0h-1.0zM595.7 108.4h1.0v1.0h-1.0zM587.1 116.6h1.0v1.0h-1.0zM588.4 116.0h1.0v1.0h-1.0zM587.1 117.2h1.0v1.0h-1.0zM590.1 115.6h1.0v1.0h-1.0zM593.9 110.8h1.0v1.0h-1.0zM619.9 85.4h1.0v1.0h-1.0zM600.1 104.3h1.0v1.0h-1.0zM590.6 114.4h1.0v1.0h-1.0zM590.0 113.7h1.0v1.0h-1.0zM590.7 113.5h1.0v1.0h-1.0zM614.2 92.7h1.0v1.0h-1.0zM589.7 115.8h1.0v1.0h-1.0zM607.5 98.2h1.0v1.0h-1.0zM594.2 110.8h1.0v1.0h-1.0zM625.8 82.6h1.0v1.0h-1.0zM590.0 114.8h1.0v1.0h-1.0zM603.9 102.5h1.0v1.0h-1.0zM600.4 106.9h1.0v1.0h-1.0zM590.5 115.2h1.0v1.0h-1.0zM589.7 117.3h1.0v1.0h-1.0zM603.8 101.1h1.0v1.0h-1.0zM596.6 109.1h1.0v1.0h-1.0zM589.3 117.0h1.0v1.0h-1.0zM593.9 111.7h1.0v1.0h-1.0zM608.6 96.5h1.0v1.0h-1.0zM594.4 111.6h1.0v1.0h-1.0zM639.1 69.5h0.8v0.8h-0.8zM595.7 109.0h1.0v1.0h-1.0zM607.1 98.3h1.0v1.0h-1.0zM616.6 89.0h1.0v1.0h-1.0zM596.2 108.8h1.0v1.0h-1.0zM592.9 112.0h1.0v1.0h-1.0zM605.6 101.9h1.0v1.0h-1.0zM587.8 117.1h1.0v1.0h-1.0zM586.1 117.6h1.0v1.0h-1.0zM607.0 97.9h1.0v1.0h-1.0zM619.4 88.3h1.0v1.0h-1.0zM589.8 114.1h1.0v1.0h-1.0zM596.8 115.0h1.0v1.0h-1.0zM595.2 113.8h1.0v1.0h-1.0zM589.3 114.3h1.0v1.0h-1.0zM586.0 117.6h1.0v1.0h-1.0zM590.6 115.8h1.0v1.0h-1.0zM648.3 60.3h0.8v0.8h-0.8zM619.5 88.5h1.0v1.0h-1.0zM606.8 98.5h1.0v1.0h-1.0zM615.3 91.6h1.0v1.0h-1.0zM598.1 106.1h1.0v1.0h-1.0zM607.0 99.0h1.0v1.0h-1.0zM611.9 94.1h1.0v1.0h-1.0zM614.8 91.3h1.0v1.0h-1.0zM592.1 113.4h1.0v1.0h-1.0zM591.8 112.8h1.0v1.0h-1.0zM633.5 74.7h1.0v1.0h-1.0zM595.8 110.3h1.0v1.0h-1.0zM609.8 95.0h1.0v1.0h-1.0zM614.1 91.3h1.0v1.0h-1.0zM605.1 99.9h1.0v1.0h-1.0zM596.6 108.0h1.0v1.0h-1.0zM638.8 69.3h0.8v0.8h-0.8zM587.5 116.1h1.0v1.0h-1.0zM588.6 117.1h1.0v1.0h-1.0zM596.3 108.6h1.0v1.0h-1.0zM640.6 67.5h0.8v0.8h-0.8zM590.1 115.7h1.0v1.0h-1.0zM597.3 108.8h1.0v1.0h-1.0zM592.0 113.5h1.0v1.0h-1.0zM588.2 115.5h1.0v1.0h-1.0zM617.2 88.9h1.0v1.0h-1.0zM602.3 106.4h1.0v1.0h-1.0zM585.3 118.2h1.0v1.0h-1.0zM593.6 112.3h1.0v1.0h-1.0zM607.7 96.8h1.0v1.0h-1.0zM601.4 104.6h1.0v1.0h-1.0zM661.8 45.7h0.8v0.8h-0.8zM622.1 83.4h1.0v1.0h-1.0zM616.0 89.8h1.0v1.0h-1.0zM590.1 115.4h1.0v1.0h-1.0zM610.1 95.1h1.0v1.0h-1.0zM593.7 114.7h1.0v1.0h-1.0zM628.9 78.2h1.0v1.0h-1.0zM647.1 60.7h0.8v0.8h-0.8zM603.5 103.4h1.0v1.0h-1.0zM622.7 84.6h1.0v1.0h-1.0zM603.4 102.0h1.0v1.0h-1.0zM589.5 115.2h1.0v1.0h-1.0zM598.0 106.9h1.0v1.0h-1.0zM593.4 114.7h1.0v1.0h-1.0zM638.9 67.7h0.8v0.8h-0.8zM593.9 112.0h1.0v1.0h-1.0zM600.2 106.7h1.0v1.0h-1.0zM634.0 73.0h1.0v1.0h-1.0zM587.3 116.4h1.0v1.0h-1.0zM595.5 112.8h1.0v1.0h-1.0zM592.0 113.2h1.0v1.0h-1.0zM587.1 117.3h1.0v1.0h-1.0zM587.9 118.5h1.0v1.0h-1.0zM597.9 108.3h1.0v1.0h-1.0zM590.1 116.7h1.0v1.0h-1.0zM613.9 90.8h1.0v1.0h-1.0zM615.4 89.3h1.0v1.0h-1.0zM610.3 94.5h1.0v1.0h-1.0zM659.4 47.7h0.8v0.8h-0.8zM630.7 76.8h1.0v1.0h-1.0zM600.4 106.2h1.0v1.0h-1.0zM589.8 114.9h1.0v1.0h-1.0zM623.9 82.0h1.0v1.0h-1.0zM605.3 101.2h1.0v1.0h-1.0zM591.9 114.3h1.0v1.0h-1.0zM590.2 113.8h1.0v1.0h-1.0zM588.5 117.5h1.0v1.0h-1.0zM592.2 112.4h1.0v1.0h-1.0zM609.5 95.7h1.0v1.0h-1.0zM604.4 101.0h1.0v1.0h-1.0zM621.4 84.1h1.0v1.0h-1.0zM595.7 109.9h1.0v1.0h-1.0zM612.1 92.8h1.0v1.0h-1.0zM612.8 94.2h1.0v1.0h-1.0zM593.1 111.3h1.0v1.0h-1.0zM590.0 113.7h1.0v1.0h-1.0zM590.8 114.3h1.0v1.0h-1.0zM603.2 102.7h1.0v1.0h-1.0zM635.0 71.9h1.0v1.0h-1.0zM619.6 85.3h1.0v1.0h-1.0zM597.3 108.1h1.0v1.0h-1.0zM590.3 119.4h1.0v1.0h-1.0zM594.0 112.3h1.0v1.0h-1.0zM625.1 82.1h1.0v1.0h-1.0zM631.1 76.3h1.0v1.0h-1.0zM597.3 107.2h1.0v1.0h-1.0zM629.2 79.0h1.0v1.0h-1.0zM596.3 108.7h1.0v1.0h-1.0zM602.5 101.9h1.0v1.0h-1.0zM593.8 110.4h1.0v1.0h-1.0zM614.8 90.0h1.0v1.0h-1.0zM616.0 89.3h1.0v1.0h-1.0zM595.3 111.8h1.0v1.0h-1.0zM613.0 91.7h1.0v1.0h-1.0zM589.0 115.5h1.0v1.0h-1.0zM595.6 112.0h1.0v1.0h-1.0zM603.0 103.0h1.0v1.0h-1.0zM587.0 118.3h1.0v1.0h-1.0zM595.2 109.6h1.0v1.0h-1.0zM594.3 110.8h1.0v1.0h-1.0zM635.1 72.1h1.0v1.0h-1.0zM594.0 109.8h1.0v1.0h-1.0zM595.6 110.0h1.0v1.0h-1.0zM599.0 105.2h1.0v1.0h-1.0zM592.0 112.4h1.0v1.0h-1.0zM624.3 82.3h1.0v1.0h-1.0zM599.4 107.9h1.0v1.0h-1.0zM585.5 118.4h1.0v1.0h-1.0zM630.5 77.4h1.0v1.0h-1.0zM586.1 118.9h1.0v1.0h-1.0zM596.1 110.6h1.0v1.0h-1.0zM588.6 116.6h1.0v1.0h-1.0zM608.1 99.1h1.0v1.0h-1.0zM614.5 92.0h1.0v1.0h-1.0zM599.7 105.9h1.0v1.0h-1.0zM650.3 57.7h0.8v0.8h-0.8zM592.5 113.4h1.0v1.0h-1.0zM618.1 88.3h1.0v1.0h-1.0zM611.5 93.2h1.0v1.0h-1.0zM590.7 113.3h1.0v1.0h-1.0zM608.4 98.6h1.0v1.0h-1.0zM611.1 96.1h1.0v1.0h-1.0zM593.5 112.0h1.0v1.0h-1.0zM593.0 111.1h1.0v1.0h-1.0zM591.3 113.3h1.0v1.0h-1.0zM610.8 96.5h1.0v1.0h-1.0zM603.8 100.6h1.0v1.0h-1.0zM609.0 97.8h1.0v1.0h-1.0zM589.7 116.8h1.0v1.0h-1.0zM588.3 115.9h1.0v1.0h-1.0zM592.4 112.9h1.0v1.0h-1.0zM600.0 105.0h1.0v1.0h-1.0zM608.7 97.8h1.0v1.0h-1.0zM586.7 118.4h1.0v1.0h-1.0zM597.3 107.2h1.0v1.0h-1.0zM592.3 115.7h1.0v1.0h-1.0zM606.0 99.5h1.0v1.0h-1.0zM640.4 65.6h0.8v0.8h-0.8zM591.4 113.0h1.0v1.0h-1.0zM593.0 115.2h1.0v1.0h-1.0zM588.5 115.4h1.0v1.0h-1.0zM592.8 111.9h1.0v1.0h-1.0zM600.0 104.9h1.0v1.0h-1.0zM592.5 114.8h1.0v1.0h-1.0zM591.9 112.4h1.0v1.0h-1.0zM613.0 93.2h1.0v1.0h-1.0zM587.0 117.2h1.0v1.0h-1.0zM602.6 104.9h1.0v1.0h-1.0zM591.0 116.6h1.0v1.0h-1.0zM596.8 107.9h1.0v1.0h-1.0zM588.7 116.4h1.0v1.0h-1.0zM588.6 116.6h1.0v1.0h-1.0zM598.0 106.9h1.0v1.0h-1.0zM613.4 93.0h1.0v1.0h-1.0zM587.3 117.7h1.0v1.0h-1.0zM612.0 96.3h1.0v1.0h-1.0zM593.6 111.0h1.0v1.0h-1.0zM593.9 114.2h1.0v1.0h-1.0zM598.6 106.2h1.0v1.0h-1.0zM587.2 118.1h1.0v1.0h-1.0zM601.9 104.8h1.0v1.0h-1.0zM642.2 65.8h0.8v0.8h-0.8zM605.7 100.4h1.0v1.0h-1.0zM610.9 97.3h1.0v1.0h-1.0zM613.7 91.9h1.0v1.0h-1.0zM614.4 90.9h1.0v1.0h-1.0zM597.3 108.9h1.0v1.0h-1.0zM619.6 86.0h1.0v1.0h-1.0zM638.2 70.4h0.8v0.8h-0.8zM606.1 98.6h1.0v1.0h-1.0zM630.9 75.8h1.0v1.0h-1.0zM614.3 90.4h1.0v1.0h-1.0zM590.0 114.2h1.0v1.0h-1.0zM588.5 118.5h1.0v1.0h-1.0zM586.9 116.6h1.0v1.0h-1.0zM604.1 101.0h1.0v1.0h-1.0zM636.7 69.2h0.8v0.8h-0.8zM617.0 87.8h1.0v1.0h-1.0zM588.1 117.8h1.0v1.0h-1.0zM614.2 92.6h1.0v1.0h-1.0zM591.3 115.6h1.0v1.0h-1.0zM595.9 109.5h1.0v1.0h-1.0zM597.9 108.0h1.0v1.0h-1.0zM589.4 116.1h1.0v1.0h-1.0zM586.4 117.0h1.0v1.0h-1.0zM606.0 99.3h1.0v1.0h-1.0zM610.0 95.3h1.0v1.0h-1.0zM600.1 106.8h1.0v1.0h-1.0zM611.2 94.0h1.0v1.0h-1.0zM614.0 91.9h1.0v1.0h-1.0zM586.3 117.2h1.0v1.0h-1.0zM609.0 96.2h1.0v1.0h-1.0zM612.2 94.4h1.0v1.0h-1.0zM602.9 101.5h1.0v1.0h-1.0zM601.6 105.6h1.0v1.0h-1.0zM586.5 116.9h1.0v1.0h-1.0zM595.1 111.1h1.0v1.0h-1.0zM593.5 111.3h1.0v1.0h-1.0zM592.8 111.8h1.0v1.0h-1.0zM607.0 97.5h1.0v1.0h-1.0zM595.6 109.9h1.0v1.0h-1.0zM634.7 71.8h1.0v1.0h-1.0zM625.5 82.4h1.0v1.0h-1.0zM590.0 114.9h1.0v1.0h-1.0zM594.7 112.6h1.0v1.0h-1.0zM613.8 92.8h1.0v1.0h-1.0zM601.6 105.2h1.0v1.0h-1.0zM607.0 98.2h1.0v1.0h-1.0zM607.8 96.9h1.0v1.0h-1.0zM614.2 91.4h1.0v1.0h-1.0zM633.4 73.9h1.0v1.0h-1.0zM600.6 104.7h1.0v1.0h-1.0zM607.9 97.1h1.0v1.0h-1.0zM589.5 115.6h1.0v1.0h-1.0zM595.6 110.4h1.0v1.0h-1.0zM587.8 116.1h1.0v1.0h-1.0zM639.0 67.8h0.8v0.8h-0.8zM587.2 118.3h1.0v1.0h-1.0zM592.4 112.9h1.0v1.0h-1.0zM586.9 117.5h1.0v1.0h-1.0zM601.5 103.0h1.0v1.0h-1.0zM597.1 106.9h1.0v1.0h-1.0zM612.5 94.2h1.0v1.0h-1.0zM591.8 116.2h1.0v1.0h-1.0zM588.8 116.5h1.0v1.0h-1.0zM588.9 115.7h1.0v1.0h-1.0zM594.3 111.3h1.0v1.0h-1.0zM593.5 111.0h1.0v1.0h-1.0zM630.0 76.1h1.0v1.0h-1.0zM597.8 106.9h1.0v1.0h-1.0zM587.6 117.7h1.0v1.0h-1.0zM592.4 112.0h1.0v1.0h-1.0zM589.4 116.5h1.0v1.0h-1.0zM595.3 115.9h1.0v1.0h-1.0zM595.4 110.7h1.0v1.0h-1.0zM589.9 114.6h1.0v1.0h-1.0zM593.1 114.4h1.0v1.0h-1.0zM590.4 113.6h1.0v1.0h-1.0zM612.7 93.4h1.0v1.0h-1.0zM623.0 82.4h1.0v1.0h-1.0zM587.7 116.7h1.0v1.0h-1.0zM598.1 107.0h1.0v1.0h-1.0zM590.4 115.8h1.0v1.0h-1.0zM609.3 95.4h1.0v1.0h-1.0zM589.6 114.5h1.0v1.0h-1.0zM586.7 117.6h1.0v1.0h-1.0zM591.2 114.1h1.0v1.0h-1.0zM589.1 116.5h1.0v1.0h-1.0zM607.0 101.9h1.0v1.0h-1.0zM592.5 116.4h1.0v1.0h-1.0zM602.5 104.4h1.0v1.0h-1.0zM590.2 118.1h1.0v1.0h-1.0zM588.3 117.2h1.0v1.0h-1.0zM603.8 101.5h1.0v1.0h-1.0zM586.0 117.2h1.0v1.0h-1.0zM590.3 115.8h1.0v1.0h-1.0zM607.4 97.1h1.0v1.0h-1.0zM597.3 110.2h1.0v1.0h-1.0zM591.5 113.3h1.0v1.0h-1.0zM600.7 103.6h1.0v1.0h-1.0zM618.6 87.0h1.0v1.0h-1.0zM586.6 117.9h1.0v1.0h-1.0zM589.0 118.2h1.0v1.0h-1.0zM591.4 113.1h1.0v1.0h-1.0zM586.9 117.4h1.0v1.0h-1.0zM599.4 106.5h1.0v1.0h-1.0zM585.7 117.8h1.0v1.0h-1.0zM633.8 74.0h1.0v1.0h-1.0zM613.2 94.1h1.0v1.0h-1.0zM586.2 117.1h1.0v1.0h-1.0zM591.5 113.1h1.0v1.0h-1.0zM599.2 107.2h1.0v1.0h-1.0zM613.3 92.7h1.0v1.0h-1.0zM592.0 113.8h1.0v1.0h-1.0zM593.8 112.7h1.0v1.0h-1.0zM587.7 117.1h1.0v1.0h-1.0zM592.5 113.2h1.0v1.0h-1.0zM597.0 107.0h1.0v1.0h-1.0zM607.1 100.8h1.0v1.0h-1.0zM619.6 85.5h1.0v1.0h-1.0zM591.2 115.2h1.0v1.0h-1.0zM613.1 91.7h1.0v1.0h-1.0zM643.9 62.3h0.8v0.8h-0.8zM598.7 107.5h1.0v1.0h-1.0zM599.1 105.7h1.0v1.0h-1.0zM630.4 77.0h1.0v1.0h-1.0zM613.8 91.4h1.0v1.0h-1.0zM632.3 73.9h1.0v1.0h-1.0zM587.1 116.5h1.0v1.0h-1.0zM611.0 94.6h1.0v1.0h-1.0zM609.6 96.5h1.0v1.0h-1.0zM596.2 108.6h1.0v1.0h-1.0zM606.8 101.9h1.0v1.0h-1.0zM609.2 98.2h1.0v1.0h-1.0zM622.4 82.8h1.0v1.0h-1.0zM596.5 110.7h1.0v1.0h-1.0zM642.0 64.1h0.8v0.8h-0.8zM608.2 99.4h1.0v1.0h-1.0zM591.6 112.4h1.0v1.0h-1.0zM616.9 91.2h1.0v1.0h-1.0zM585.9 118.3h1.0v1.0h-1.0zM595.1 109.5h1.0v1.0h-1.0zM627.7 78.9h1.0v1.0h-1.0zM601.7 104.5h1.0v1.0h-1.0zM651.7 56.8h0.8v0.8h-0.8zM586.8 117.4h1.0v1.0h-1.0zM589.2 119.6h1.0v1.0h-1.0zM641.6 65.0h0.8v0.8h-0.8zM590.8 113.5h1.0v1.0h-1.0zM599.5 105.8h1.0v1.0h-1.0zM605.4 99.7h1.0v1.0h-1.0zM596.3 109.2h1.0v1.0h-1.0zM595.5 108.7h1.0v1.0h-1.0zM589.3 117.2h1.0v1.0h-1.0zM615.7 91.5h1.0v1.0h-1.0zM587.8 116.2h1.0v1.0h-1.0zM588.9 119.8h1.0v1.0h-1.0zM592.2 112.4h1.0v1.0h-1.0zM591.8 112.5h1.0v1.0h-1.0zM591.4 112.7h1.0v1.0h-1.0zM600.6 104.6h1.0v1.0h-1.0zM633.7 72.1h1.0v1.0h-1.0zM598.5 106.9h1.0v1.0h-1.0zM636.9 69.6h0.8v0.8h-0.8zM594.3 113.7h1.0v1.0h-1.0zM622.4 84.1h1.0v1.0h-1.0zM615.7 90.6h1.0v1.0h-1.0zM589.4 114.4h1.0v1.0h-1.0zM599.8 104.5h1.0v1.0h-1.0zM587.1 118.8h1.0v1.0h-1.0zM585.3 118.0h1.0v1.0h-1.0zM586.0 118.4h1.0v1.0h-1.0zM614.3 93.0h1.0v1.0h-1.0zM631.7 75.3h1.0v1.0h-1.0zM598.8 108.3h1.0v1.0h-1.0zM617.4 87.7h1.0v1.0h-1.0zM599.1 105.6h1.0v1.0h-1.0zM600.7 105.9h1.0v1.0h-1.0zM589.8 117.7h1.0v1.0h-1.0zM600.2 104.0h1.0v1.0h-1.0zM606.5 97.9h1.0v1.0h-1.0zM590.1 115.0h1.0v1.0h-1.0zM591.7 120.0h1.0v1.0h-1.0zM600.6 103.8h1.0v1.0h-1.0zM589.1 114.8h1.0v1.0h-1.0zM655.5 52.3h0.8v0.8h-0.8zM589.0 115.4h1.0v1.0h-1.0zM661.0 46.3h0.8v0.8h-0.8zM594.1 111.3h1.0v1.0h-1.0zM591.3 112.8h1.0v1.0h-1.0zM602.3 102.9h1.0v1.0h-1.0zM630.0 77.4h1.0v1.0h-1.0zM587.6 117.9h1.0v1.0h-1.0zM610.5 95.8h1.0v1.0h-1.0zM601.1 103.4h1.0v1.0h-1.0zM589.2 117.1h1.0v1.0h-1.0zM598.9 105.6h1.0v1.0h-1.0zM589.8 116.2h1.0v1.0h-1.0zM606.2 100.2h1.0v1.0h-1.0zM594.0 111.8h1.0v1.0h-1.0zM620.5 85.0h1.0v1.0h-1.0zM592.0 112.4h1.0v1.0h-1.0zM595.7 108.3h1.0v1.0h-1.0zM603.9 104.1h1.0v1.0h-1.0zM619.0 86.2h1.0v1.0h-1.0zM642.6 64.9h0.8v0.8h-0.8zM613.3 95.3h1.0v1.0h-1.0zM591.9 113.6h1.0v1.0h-1.0zM591.3 114.0h1.0v1.0h-1.0zM614.8 91.9h1.0v1.0h-1.0zM598.5 107.6h1.0v1.0h-1.0zM596.7 111.6h1.0v1.0h-1.0zM608.0 96.6h1.0v1.0h-1.0zM588.9 118.7h1.0v1.0h-1.0zM602.3 102.6h1.0v1.0h-1.0zM590.8 115.1h1.0v1.0h-1.0zM592.2 112.8h1.0v1.0h-1.0zM586.7 119.4h1.0v1.0h-1.0zM586.3 117.4h1.0v1.0h-1.0zM613.7 93.8h1.0v1.0h-1.0zM598.1 107.9h1.0v1.0h-1.0zM622.1 88.9h1.0v1.0h-1.0zM594.3 110.7h1.0v1.0h-1.0zM615.2 93.5h1.0v1.0h-1.0zM632.5 75.8h1.0v1.0h-1.0zM609.1 95.6h1.0v1.0h-1.0zM587.7 118.1h1.0v1.0h-1.0zM597.2 106.7h1.0v1.0h-1.0zM593.0 113.7h1.0v1.0h-1.0zM623.9 82.4h1.0v1.0h-1.0zM617.9 87.0h1.0v1.0h-1.0zM600.3 106.2h1.0v1.0h-1.0zM585.9 117.6h1.0v1.0h-1.0zM607.1 98.1h1.0v1.0h-1.0zM601.6 103.3h1.0v1.0h-1.0zM602.8 104.1h1.0v1.0h-1.0zM599.6 105.6h1.0v1.0h-1.0zM620.3 85.3h1.0v1.0h-1.0zM633.2 73.8h1.0v1.0h-1.0zM591.3 113.9h1.0v1.0h-1.0zM597.0 109.1h1.0v1.0h-1.0zM600.5 104.9h1.0v1.0h-1.0zM595.3 114.3h1.0v1.0h-1.0zM586.4 116.9h1.0v1.0h-1.0zM588.9 115.3h1.0v1.0h-1.0zM598.8 110.0h1.0v1.0h-1.0zM592.7 111.1h1.0v1.0h-1.0zM589.1 114.6h1.0v1.0h-1.0zM594.2 110.7h1.0v1.0h-1.0zM617.1 88.7h1.0v1.0h-1.0zM597.0 108.4h1.0v1.0h-1.0zM595.0 108.9h1.0v1.0h-1.0zM615.1 90.2h1.0v1.0h-1.0zM599.1 105.5h1.0v1.0h-1.0zM592.2 113.9h1.0v1.0h-1.0zM602.4 103.6h1.0v1.0h-1.0zM586.6 119.2h1.0v1.0h-1.0zM626.4 79.0h1.0v1.0h-1.0zM587.9 116.5h1.0v1.0h-1.0zM615.1 90.4h1.0v1.0h-1.0zM593.4 111.8h1.0v1.0h-1.0zM604.4 100.4h1.0v1.0h-1.0zM594.2 112.5h1.0v1.0h-1.0zM587.8 117.9h1.0v1.0h-1.0zM603.1 102.5h1.0v1.0h-1.0zM609.9 96.1h1.0v1.0h-1.0zM598.1 106.5h1.0v1.0h-1.0zM585.8 118.2h1.0v1.0h-1.0zM623.2 82.2h1.0v1.0h-1.0zM600.4 104.3h1.0v1.0h-1.0zM585.9 118.2h1.0v1.0h-1.0zM590.2 115.7h1.0v1.0h-1.0zM637.2 69.8h0.8v0.8h-0.8zM599.6 107.5h1.0v1.0h-1.0zM600.4 108.4h1.0v1.0h-1.0zM604.7 104.1h1.0v1.0h-1.0zM589.2 115.9h1.0v1.0h-1.0zM594.6 109.6h1.0v1.0h-1.0zM607.8 99.5h1.0v1.0h-1.0zM594.5 110.2h1.0v1.0h-1.0zM614.2 92.9h1.0v1.0h-1.0zM606.1 102.4h1.0v1.0h-1.0zM592.0 111.8h1.0v1.0h-1.0zM596.3 109.2h1.0v1.0h-1.0zM596.1 108.1h1.0v1.0h-1.0zM588.4 117.0h1.0v1.0h-1.0zM597.9 106.7h1.0v1.0h-1.0zM588.0 118.1h1.0v1.0h-1.0zM590.1 113.8h1.0v1.0h-1.0zM591.0 112.8h1.0v1.0h-1.0zM589.0 116.1h1.0v1.0h-1.0zM645.2 62.1h0.8v0.8h-0.8zM644.6 63.7h0.8v0.8h-0.8zM598.1 106.5h1.0v1.0h-1.0zM592.6 111.5h1.0v1.0h-1.0zM591.0 114.5h1.0v1.0h-1.0zM624.7 81.2h1.0v1.0h-1.0zM596.5 108.3h1.0v1.0h-1.0zM612.6 92.1h1.0v1.0h-1.0zM594.0 110.5h1.0v1.0h-1.0zM587.8 118.6h1.0v1.0h-1.0zM592.4 112.2h1.0v1.0h-1.0zM596.8 109.2h1.0v1.0h-1.0zM587.3 116.9h1.0v1.0h-1.0zM621.3 83.7h1.0v1.0h-1.0zM620.2 85.7h1.0v1.0h-1.0zM586.9 118.1h1.0v1.0h-1.0zM630.7 76.5h1.0v1.0h-1.0zM640.2 67.5h0.8v0.8h-0.8zM621.2 84.3h1.0v1.0h-1.0zM597.6 107.6h1.0v1.0h-1.0zM595.7 109.3h1.0v1.0h-1.0zM598.0 106.2h1.0v1.0h-1.0zM617.9 90.1h1.0v1.0h-1.0zM585.7 118.4h1.0v1.0h-1.0zM594.8 109.1h1.0v1.0h-1.0zM588.6 118.5h1.0v1.0h-1.0zM645.7 60.8h0.8v0.8h-0.8zM597.8 107.5h1.0v1.0h-1.0zM591.6 119.4h1.0v1.0h-1.0zM588.4 120.0h1.0v1.0h-1.0zM594.6 110.5h1.0v1.0h-1.0zM589.0 115.2h1.0v1.0h-1.0zM586.2 118.3h1.0v1.0h-1.0zM592.4 112.3h1.0v1.0h-1.0zM599.7 104.6h1.0v1.0h-1.0zM592.0 113.3h1.0v1.0h-1.0zM587.2 118.5h1.0v1.0h-1.0zM591.5 115.9h1.0v1.0h-1.0zM621.4 86.4h1.0v1.0h-1.0zM612.3 92.5h1.0v1.0h-1.0zM601.5 104.7h1.0v1.0h-1.0zM589.5 116.2h1.0v1.0h-1.0zM620.5 87.2h1.0v1.0h-1.0zM649.9 58.7h0.8v0.8h-0.8zM612.9 92.9h1.0v1.0h-1.0zM598.9 105.2h1.0v1.0h-1.0zM601.2 103.1h1.0v1.0h-1.0zM597.6 107.3h1.0v1.0h-1.0zM585.7 118.0h1.0v1.0h-1.0zM589.6 114.7h1.0v1.0h-1.0zM644.5 63.2h0.8v0.8h-0.8zM599.6 105.6h1.0v1.0h-1.0zM600.2 105.2h1.0v1.0h-1.0zM602.8 102.3h1.0v1.0h-1.0zM596.8 109.5h1.0v1.0h-1.0zM614.9 89.9h1.0v1.0h-1.0zM602.0 102.4h1.0v1.0h-1.0zM598.4 107.0h1.0v1.0h-1.0zM610.8 95.2h1.0v1.0h-1.0zM616.6 88.2h1.0v1.0h-1.0zM634.9 72.5h1.0v1.0h-1.0zM619.1 86.3h1.0v1.0h-1.0zM593.0 113.7h1.0v1.0h-1.0zM592.8 112.1h1.0v1.0h-1.0zM604.9 100.1h1.0v1.0h-1.0zM589.6 114.5h1.0v1.0h-1.0zM604.3 103.6h1.0v1.0h-1.0zM629.7 77.0h1.0v1.0h-1.0zM592.5 116.0h1.0v1.0h-1.0zM589.0 116.5h1.0v1.0h-1.0zM632.2 75.5h1.0v1.0h-1.0zM597.8 108.6h1.0v1.0h-1.0zM595.5 109.7h1.0v1.0h-1.0zM587.6 118.1h1.0v1.0h-1.0zM599.0 106.6h1.0v1.0h-1.0zM621.0 85.9h1.0v1.0h-1.0zM614.3 91.8h1.0v1.0h-1.0zM592.2 112.8h1.0v1.0h-1.0zM620.1 84.9h1.0v1.0h-1.0zM598.8 105.5h1.0v1.0h-1.0zM601.6 103.1h1.0v1.0h-1.0zM588.0 116.2h1.0v1.0h-1.0zM587.3 116.9h1.0v1.0h-1.0zM602.8 101.5h1.0v1.0h-1.0zM611.8 95.7h1.0v1.0h-1.0zM634.2 72.8h1.0v1.0h-1.0zM607.1 99.5h1.0v1.0h-1.0zM626.6 80.2h1.0v1.0h-1.0zM603.8 100.9h1.0v1.0h-1.0zM595.0 111.0h1.0v1.0h-1.0zM589.4 115.5h1.0v1.0h-1.0zM585.7 118.6h1.0v1.0h-1.0zM648.4 58.7h0.8v0.8h-0.8zM597.7 109.5h1.0v1.0h-1.0zM612.2 94.7h1.0v1.0h-1.0zM596.3 108.5h1.0v1.0h-1.0zM597.9 107.3h1.0v1.0h-1.0zM592.3 114.4h1.0v1.0h-1.0zM600.7 106.3h1.0v1.0h-1.0zM592.9 111.1h1.0v1.0h-1.0zM627.9 79.4h1.0v1.0h-1.0zM619.0 86.4h1.0v1.0h-1.0zM602.4 105.0h1.0v1.0h-1.0zM590.3 114.6h1.0v1.0h-1.0zM617.7 88.7h1.0v1.0h-1.0zM593.8 110.5h1.0v1.0h-1.0zM605.1 99.7h1.0v1.0h-1.0zM598.5 106.1h1.0v1.0h-1.0zM605.1 99.6h1.0v1.0h-1.0zM596.4 107.6h1.0v1.0h-1.0zM592.3 112.9h1.0v1.0h-1.0zM626.6 80.3h1.0v1.0h-1.0zM592.2 111.8h1.0v1.0h-1.0zM598.2 108.9h1.0v1.0h-1.0zM590.3 114.3h1.0v1.0h-1.0zM639.2 68.5h0.8v0.8h-0.8zM595.0 110.8h1.0v1.0h-1.0zM627.2 83.1h1.0v1.0h-1.0zM603.0 101.6h1.0v1.0h-1.0zM625.7 80.6h1.0v1.0h-1.0zM649.2 57.3h0.8v0.8h-0.8zM609.3 97.4h1.0v1.0h-1.0zM611.2 96.3h1.0v1.0h-1.0zM638.0 69.9h0.8v0.8h-0.8zM615.6 89.8h1.0v1.0h-1.0zM589.1 117.4h1.0v1.0h-1.0zM592.3 113.7h1.0v1.0h-1.0zM593.5 114.7h1.0v1.0h-1.0zM594.1 112.0h1.0v1.0h-1.0zM598.4 106.9h1.0v1.0h-1.0zM641.0 65.7h0.8v0.8h-0.8zM596.1 108.5h1.0v1.0h-1.0zM613.1 92.2h1.0v1.0h-1.0zM586.9 116.7h1.0v1.0h-1.0zM595.4 110.5h1.0v1.0h-1.0zM594.1 111.3h1.0v1.0h-1.0zM588.0 115.8h1.0v1.0h-1.0zM599.3 106.6h1.0v1.0h-1.0zM605.5 101.0h1.0v1.0h-1.0zM631.5 74.8h1.0v1.0h-1.0zM591.1 114.7h1.0v1.0h-1.0zM593.8 110.4h1.0v1.0h-1.0z" fill="#2a962c"/>
<polygon points="581.1,120.0 581.1,118.9 581.4,118.1 581.8,117.3 582.3,116.6 582.7,115.9 583.2,115.2 583.7,114.5 584.2,113.9 584.8,113.3 585.4,112.7 586.0,112.2 586.6,111.6 587.2,111.0 587.8,110.4 588.4,109.9 589.0,109.3 589.6,108.7 590.2,108.2 590.8,107.6 591.4,107.0 592.0,106.4 592.6,105.9 593.2,105.3 593.8,104.7 594.3,104.2 594.9,103.6 595.5,103.0 596.1,102.4 596.7,101.9 597.3,101.3 597.9,100.7 598.5,100.1 599.1,99.6 599.7,99.0 600.3,98.4 600.9,97.9 601.5,97.3 602.1,96.7 602.7,96.1 603.3,95.6 603.9,95.0 604.5,94.4 605.1,93.9 605.7,93.3 606.3,92.7 606.9,92.1 607.5,91.6 608.1,91.0 608.7,90.4 609.3,89.8 609.9,89.3 610.5,88.7 611.1,88.1 611.7,87.6 612.3,87.0 612.9,86.4 613.5,85.8 614.1,85.3 614.7,84.7 615.3,84.1 615.9,83.6 616.5,83.0 617.1,82.4 617.7,81.8 618.3,81.3 618.9,80.7 619.5,80.1 620.1,79.6 620.6,79.0 621.2,78.4 621.8,77.8 622.4,77.3 623.0,76.7 623.6,76.1 624.2,75.5 624.8,75.0 625.4,74.4 626.0,73.8 626.6,73.3 627.2,72.7 627.8,72.1 628.4,71.5 629.0,71.0 629.6,70.4 630.2,69.8 630.8,69.3 631.4,68.7 632.0,68.1 632.6,67.5 633.2,67.0 633.8,66.4 634.4,65.8 635.0,65.2 635.6,64.7 636.2,64.1 636.8,63.5 637.4,63.0 638.0,62.4 638.6,61.8 639.2,61.2 639.8,60.7 640.4,60.1 641.0,59.5 641.6,59.0 642.2,58.4 642.8,57.8 643.4,57.2 643.9,56.7 644.5,56.1 645.1,55.5 645.7,54.9 646.3,54.4 646.9,53.8 647.5,53.2 648.1,52.7 648.7,52.1 649.3,51.5 649.9,50.9 650.5,50.4 651.1,49.8 651.7,49.2 652.3,48.6 652.9,48.1 653.5,47.5 654.1,46.9 654.7,46.4 655.3,45.8 655.9,45.2 656.5,44.6 657.1,44.1 657.7,43.5 658.3,43.0 658.9,42.4 659.5,41.8 660.1,41.3 660.8,40.7 661.4,40.1 662.0,39.6 662.6,39.1 663.3,38.6 664.0,38.0 664.6,37.5 665.3,37.0 665.9,36.5 666.6,36.0 667.3,35.5 667.9,35.0 668.6,34.4 669.2,33.9 669.9,33.4 670.6,32.9 671.2,32.4 671.9,31.9 672.5,31.4 673.2,30.8 673.9,30.3 674.5,29.8 675.2,29.3 675.8,28.8 676.5,28.3 677.2,27.8 677.8,27.2 678.5,26.7 679.1,26.2 679.8,25.7 680.5,25.2 681.1,24.7 681.8,24.2 682.4,23.7 683.1,23.1 683.1,23.1 682.6,23.7 682.0,24.4 681.4,25.0 680.9,25.6 680.3,26.2 679.8,26.8 679.2,27.4 678.7,28.0 678.1,28.6 677.5,29.2 677.0,29.9 676.4,30.5 675.9,31.1 675.3,31.7 674.8,32.3 674.2,32.9 673.7,33.5 673.1,34.1 672.5,34.7 672.0,35.3 671.4,36.0 670.9,36.6 670.3,37.2 669.8,37.8 669.2,38.4 668.7,39.0 668.1,39.6 667.5,40.2 667.0,40.8 666.4,41.5 665.9,42.1 665.3,42.7 664.7,43.2 664.1,43.8 663.5,44.4 662.9,44.9 662.3,45.5 661.7,46.0 661.1,46.6 660.4,47.2 659.8,47.7 659.2,48.3 658.6,48.9 658.0,49.5 657.5,50.0 656.9,50.6 656.3,51.2 655.7,51.7 655.1,52.3 654.5,52.9 653.9,53.5 653.3,54.0 652.7,54.6 652.1,55.2 651.5,55.7 650.9,56.3 650.3,56.9 649.7,57.5 649.1,58.0 648.5,58.6 647.9,59.2 647.3,59.8 646.7,60.3 646.1,60.9 645.5,61.5 644.9,62.0 644.3,62.6 643.7,63.2 643.1,63.8 642.5,64.3 641.9,64.9 641.3,65.5 640.7,66.0 640.1,66.6 639.5,67.2 638.9,67.8 638.3,68.3 637.7,68.9 637.1,69.5 636.5,70.1 635.9,70.6 635.3,71.2 634.7,71.8 634.2,72.3 633.6,72.9 633.0,73.5 632.4,74.1 631.8,74.6 631.2,75.2 630.6,75.8 630.0,76.4 629.4,76.9 628.8,77.5 628.2,78.1 627.6,78.6 627.0,79.2 626.4,79.8 625.8,80.4 625.2,80.9 624.6,81.5 624.0,82.1 623.4,82.6 622.8,83.2 622.2,83.8 621.6,84.4 621.0,84.9 620.4,85.5 619.8,86.1 619.2,86.6 618.6,87.2 618.0,87.8 617.4,88.4 616.8,88.9 616.2,89.5 615.6,90.1 615.0,90.7 614.4,91.2 613.8,91.8 613.2,92.4 612.6,92.9 612.0,93.5 611.4,94.1 610.8,94.7 610.2,95.2 609.6,95.8 609.1,96.4 608.5,96.9 607.9,97.5 607.3,98.1 606.7,98.7 606.1,99.2 605.5,99.8 604.9,100.4 604.3,101.0 603.7,101.5 603.1,102.1 602.5,102.7 601.9,103.2 601.3,103.8 600.7,104.4 600.1,105.0 599.5,105.5 598.9,106.1 598.3,106.7 597.7,107.2 597.1,107.8 596.5,108.4 595.9,109.0 595.3,109.5 594.7,110.1 594.1,110.7 593.5,111.2 592.9,111.8 592.3,112.4 591.7,113.0 591.1,113.5 590.5,114.1 589.9,114.7 589.3,115.3 588.7,115.8 588.1,116.4 587.5,117.0 586.8,117.4 586.1,117.9 585.4,118.4 584.7,118.8 583.9,119.2 583.1,119.6 582.3,120.0 581.1,120.0" fill="#d8d8d8" stroke="#d8d8d8" stroke-width="0.5" stroke-linejoin="round"/>
<path d="M579.7 121.7h0.8v0.8h-0.8zM580.0 121.1h0.8v0.8h-0.8zM578.3 123.1h0.8v0.8h-0.8zM577.4 122.2h0.8v0.8h-0.8zM577.6 121.9h0.8v0.8h-0.8zM580.3 121.7h0.8v0.8h-0.8zM576.7 120.8h0.8v0.8h-0.8zM578.0 121.9h0.8v0.8h-0.8zM579.0 120.4h0.8v0.8h-0.8zM579.1 121.1h0.8v0.8h-0.8zM578.0 119.5h0.8v0.8h-0.8zM579.5 122.3h0.8v0.8h-0.8z" fill="#dddddd"/>
<rect x="573.0" y="23.7" width="109.5" height="101.2" fill="none" stroke="#111" stroke-width="1"/>
<line x1="653.8" y1="54.0" x2="658.4" y2="59.4" stroke="#111" stroke-width="1.15"/>
<circle cx="653.8" cy="54.0" r="1.6" fill="#ddd" stroke="#111" stroke-width="1.05"/>
<line x1="624.0" y1="83.4" x2="635.2" y2="83.4" stroke="#111" stroke-width="1.15"/>
<circle cx="624.0" cy="83.4" r="1.6" fill="#ddd" stroke="#111" stroke-width="1.05"/>
<line x1="627.4" y1="89.6" x2="633.0" y2="94.2" stroke="#111" stroke-width="1.15"/>
<circle cx="627.4" cy="89.6" r="1.6" fill="#ddd" stroke="#111" stroke-width="1.05"/>
<text x="655.60" y="67.70" font-size="8.3" text-anchor="start" font-style="italic">MYCL</text>
<text x="636.80" y="86.40" font-size="8.3" text-anchor="start" font-style="italic">E2F1</text>
<text x="634.20" y="98.50" font-size="8.3" text-anchor="start" font-style="italic">BAF53B</text>
<text x="579.60" y="36.40" font-size="8.8" text-anchor="start" style="fill:#a01ea0;stroke:#a01ea0" >1,226 genes</text>
<text x="627.40" y="118.10" font-size="8.8" text-anchor="start" style="fill:#1f9a2a;stroke:#1f9a2a" >1,094 genes</text>
<text x="571.40" y="27.30" font-size="7.5" text-anchor="end" >19</text>
<text x="571.40" y="76.90" font-size="7.5" text-anchor="end" >10</text>
<text x="571.60" y="127.60" font-size="7.5" text-anchor="end" >1</text>
<text x="573.30" y="133.50" font-size="7.5" text-anchor="middle" >1</text>
<text x="627.60" y="133.50" font-size="7.5" text-anchor="middle" >10</text>
<text x="686.00" y="133.50" font-size="7.5" text-anchor="end" >19</text>
<text x="596.00" y="141.70" font-size="9.0" text-anchor="start" >si-NC log<tspan font-size="7.6" dy="1.8">2</tspan><tspan dy="-1.8" dx="0.6">signal</tspan></text>
<text transform="translate(558.9 73.6) rotate(-90)" font-size="9.2" text-anchor="middle">si-<tspan font-style="italic">BAF53B</tspan> log<tspan font-size="7.6" dy="1.8">2</tspan><tspan dy="-1.8" dx="0.8">signal</tspan></text>
</g>
<g id="panel-e">
<text x="212.70" y="185.50" font-size="7.3" text-anchor="middle" >2</text>
<line x1="234.03" x2="234.03" y1="187.9" y2="299.4" stroke="#f5f5f5" stroke-width="0.6"/>
<text x="233.62" y="185.50" font-size="7.3" text-anchor="middle" >4</text>
<line x1="255.07" x2="255.07" y1="187.9" y2="299.4" stroke="#f5f5f5" stroke-width="0.6"/>
<text x="254.54" y="185.50" font-size="7.3" text-anchor="middle" >6</text>
<line x1="276.10" x2="276.10" y1="187.9" y2="299.4" stroke="#f5f5f5" stroke-width="0.6"/>
<text x="275.46" y="185.50" font-size="7.3" text-anchor="middle" >8</text>
<line x1="297.13" x2="297.13" y1="187.9" y2="299.4" stroke="#f5f5f5" stroke-width="0.6"/>
<text x="296.38" y="185.50" font-size="7.3" text-anchor="middle" >10</text>
<line x1="318.17" x2="318.17" y1="187.9" y2="299.4" stroke="#f5f5f5" stroke-width="0.6"/>
<text x="317.30" y="185.50" font-size="7.3" text-anchor="middle" >12</text>
<text x="338.22" y="185.50" font-size="7.3" text-anchor="middle" >14</text>
<rect x="213.00" y="190.00" width="100.56" height="4.4" fill="#00b050" stroke="#0a3d1f" stroke-width="0.8"/>
<text x="208.30" y="194.70" font-size="8.94" text-anchor="end" >negative regulation of cellular glucuronidation</text>
<rect x="213.00" y="199.39" width="67.33" height="4.4" fill="#00b050" stroke="#0a3d1f" stroke-width="0.8"/>
<text x="208.30" y="204.09" font-size="8.94" text-anchor="end" >chordate embryonic development</text>
<rect x="213.00" y="208.78" width="61.44" height="4.4" fill="#00b050" stroke="#0a3d1f" stroke-width="0.8"/>
<text x="208.30" y="213.48" font-size="8.94" text-anchor="end" >cell population proliferation</text>
<rect x="213.00" y="218.17" width="44.61" height="4.4" fill="#00b050" stroke="#0a3d1f" stroke-width="0.8"/>
<text x="208.30" y="222.87" font-size="8.94" text-anchor="end" >cytokine-mediated signaling pathway</text>
<rect x="213.00" y="227.56" width="42.40" height="4.4" fill="#00b050" stroke="#0a3d1f" stroke-width="0.8"/>
<text x="208.30" y="232.26" font-size="8.94" text-anchor="end" >chromosome organization</text>
<rect x="213.00" y="236.95" width="37.35" height="4.4" fill="#00b050" stroke="#0a3d1f" stroke-width="0.8"/>
<text x="208.30" y="241.65" font-size="8.94" text-anchor="end" textLength="201.0" lengthAdjust="spacingAndGlyphs">leukocyte activation involved in immune response</text>
<rect x="213.00" y="246.34" width="34.30" height="4.4" fill="#00b050" stroke="#0a3d1f" stroke-width="0.8"/>
<text x="208.30" y="251.04" font-size="8.94" text-anchor="end" >response to radiation</text>
<rect x="213.00" y="255.73" width="32.52" height="4.4" fill="#00b050" stroke="#0a3d1f" stroke-width="0.8"/>
<text x="208.30" y="260.43" font-size="8.94" text-anchor="end" >signal transduction in response to DNA damage</text>
<rect x="213.00" y="265.12" width="30.73" height="4.4" fill="#00b050" stroke="#0a3d1f" stroke-width="0.8"/>
<text x="208.30" y="269.82" font-size="8.94" text-anchor="end" >negative regulation of cell differentiation</text>
<rect x="213.00" y="274.51" width="28.31" height="4.4" fill="#00b050" stroke="#0a3d1f" stroke-width="0.8"/>
<text x="208.30" y="279.21" font-size="8.94" text-anchor="end" >protein localization to organelle</text>
<rect x="213.00" y="283.90" width="27.89" height="4.4" fill="#00b050" stroke="#0a3d1f" stroke-width="0.8"/>
<text x="208.30" y="288.60" font-size="8.94" text-anchor="end" >regulation of cell junction assembly</text>
<rect x="213.00" y="293.29" width="27.57" height="4.4" fill="#00b050" stroke="#0a3d1f" stroke-width="0.8"/>
<text x="208.30" y="297.99" font-size="8.94" text-anchor="end" >cellular response to hormone stimulus</text>
<rect x="213.0" y="187.9" width="126.2" height="111.5" fill="none" stroke="#111" stroke-width="1"/>
<text x="239.9" y="173.7" font-size="9.1"><tspan font-size="12" dy="0.8">−</tspan><tspan x="249.6" dy="-0.8" font-size="8.6">log</tspan><tspan x="260.5" font-size="7.8" dy="2" letter-spacing="0.5">10</tspan><tspan x="271.2" dy="-2">(</tspan><tspan font-style="italic">P</tspan>-value)</text>
</g>
<g id="panel-f">
<text x="556.80" y="185.50" font-size="7.3" text-anchor="middle" >2</text>
<line x1="575.33" x2="575.33" y1="187.9" y2="299.4" stroke="#f5f5f5" stroke-width="0.6"/>
<text x="574.75" y="185.50" font-size="7.3" text-anchor="middle" >3</text>
<line x1="593.36" x2="593.36" y1="187.9" y2="299.4" stroke="#f5f5f5" stroke-width="0.6"/>
<text x="592.70" y="185.50" font-size="7.3" text-anchor="middle" >4</text>
<line x1="611.39" x2="611.39" y1="187.9" y2="299.4" stroke="#f5f5f5" stroke-width="0.6"/>
<text x="610.65" y="185.50" font-size="7.3" text-anchor="middle" >5</text>
<line x1="629.41" x2="629.41" y1="187.9" y2="299.4" stroke="#f5f5f5" stroke-width="0.6"/>
<text x="628.60" y="185.50" font-size="7.3" text-anchor="middle" >6</text>
<line x1="647.44" x2="647.44" y1="187.9" y2="299.4" stroke="#f5f5f5" stroke-width="0.6"/>
<text x="646.55" y="185.50" font-size="7.3" text-anchor="middle" >7</text>
<line x1="665.47" x2="665.47" y1="187.9" y2="299.4" stroke="#f5f5f5" stroke-width="0.6"/>
<text x="664.50" y="185.50" font-size="7.3" text-anchor="middle" >8</text>
<text x="682.45" y="185.50" font-size="7.3" text-anchor="middle" >9</text>
<rect x="557.30" y="190.00" width="114.44" height="4.4" fill="#7733b0" stroke="#2a1050" stroke-width="0.8"/>
<text x="552.50" y="194.70" font-size="8.94" text-anchor="end" >supramolecular fiber organization</text>
<rect x="557.30" y="199.39" width="87.76" height="4.4" fill="#7733b0" stroke="#2a1050" stroke-width="0.8"/>
<text x="552.50" y="204.09" font-size="8.94" text-anchor="end" >striated muscle cell differentiation</text>
<rect x="557.30" y="208.78" width="87.76" height="4.4" fill="#7733b0" stroke="#2a1050" stroke-width="0.8"/>
<text x="552.50" y="213.48" font-size="8.94" text-anchor="end" >innate immune response</text>
<rect x="557.30" y="218.17" width="78.75" height="4.4" fill="#7733b0" stroke="#2a1050" stroke-width="0.8"/>
<text x="552.50" y="222.87" font-size="8.94" text-anchor="end" >inorganic ion transmembrane transport</text>
<rect x="557.30" y="227.56" width="77.66" height="4.4" fill="#7733b0" stroke="#2a1050" stroke-width="0.8"/>
<text x="552.50" y="232.26" font-size="8.94" text-anchor="end" >heart development</text>
<rect x="557.30" y="236.95" width="77.66" height="4.4" fill="#7733b0" stroke="#2a1050" stroke-width="0.8"/>
<text x="552.50" y="241.65" font-size="8.94" text-anchor="end" >import into cell</text>
<rect x="557.30" y="246.34" width="74.78" height="4.4" fill="#7733b0" stroke="#2a1050" stroke-width="0.8"/>
<text x="552.50" y="251.04" font-size="8.94" text-anchor="end" >circulatory system process</text>
<rect x="557.30" y="255.73" width="73.52" height="4.4" fill="#7733b0" stroke="#2a1050" stroke-width="0.8"/>
<text x="552.50" y="260.43" font-size="8.94" text-anchor="end" >response to bacterium</text>
<rect x="557.30" y="265.12" width="73.52" height="4.4" fill="#7733b0" stroke="#2a1050" stroke-width="0.8"/>
<text x="552.50" y="269.82" font-size="8.94" text-anchor="end" textLength="198.8" lengthAdjust="spacingAndGlyphs">leukocyte activation involved in inflammatory response</text>
<rect x="557.30" y="274.51" width="69.37" height="4.4" fill="#7733b0" stroke="#2a1050" stroke-width="0.8"/>
<text x="552.50" y="279.21" font-size="8.94" text-anchor="end" >extracellular matrix organization</text>
<rect x="557.30" y="283.90" width="64.68" height="4.4" fill="#7733b0" stroke="#2a1050" stroke-width="0.8"/>
<text x="552.50" y="288.60" font-size="8.94" text-anchor="end" >skeletal system development</text>
<rect x="557.30" y="293.29" width="64.32" height="4.4" fill="#7733b0" stroke="#2a1050" stroke-width="0.8"/>
<text x="552.50" y="297.99" font-size="8.94" text-anchor="end" >regulation of immune effector process</text>
<rect x="557.3" y="187.9" width="126.2" height="111.5" fill="none" stroke="#111" stroke-width="1"/>
<text x="586.6" y="173.7" font-size="9.1"><tspan font-size="12" dy="0.8">−</tspan><tspan x="596.3" dy="-0.8" font-size="8.6">log</tspan><tspan x="607.2" font-size="7.8" dy="2" letter-spacing="0.5">10</tspan><tspan x="617.9" dy="-2">(</tspan><tspan font-style="italic">P</tspan>-value)</text>
</g>
</svg></body></html>
